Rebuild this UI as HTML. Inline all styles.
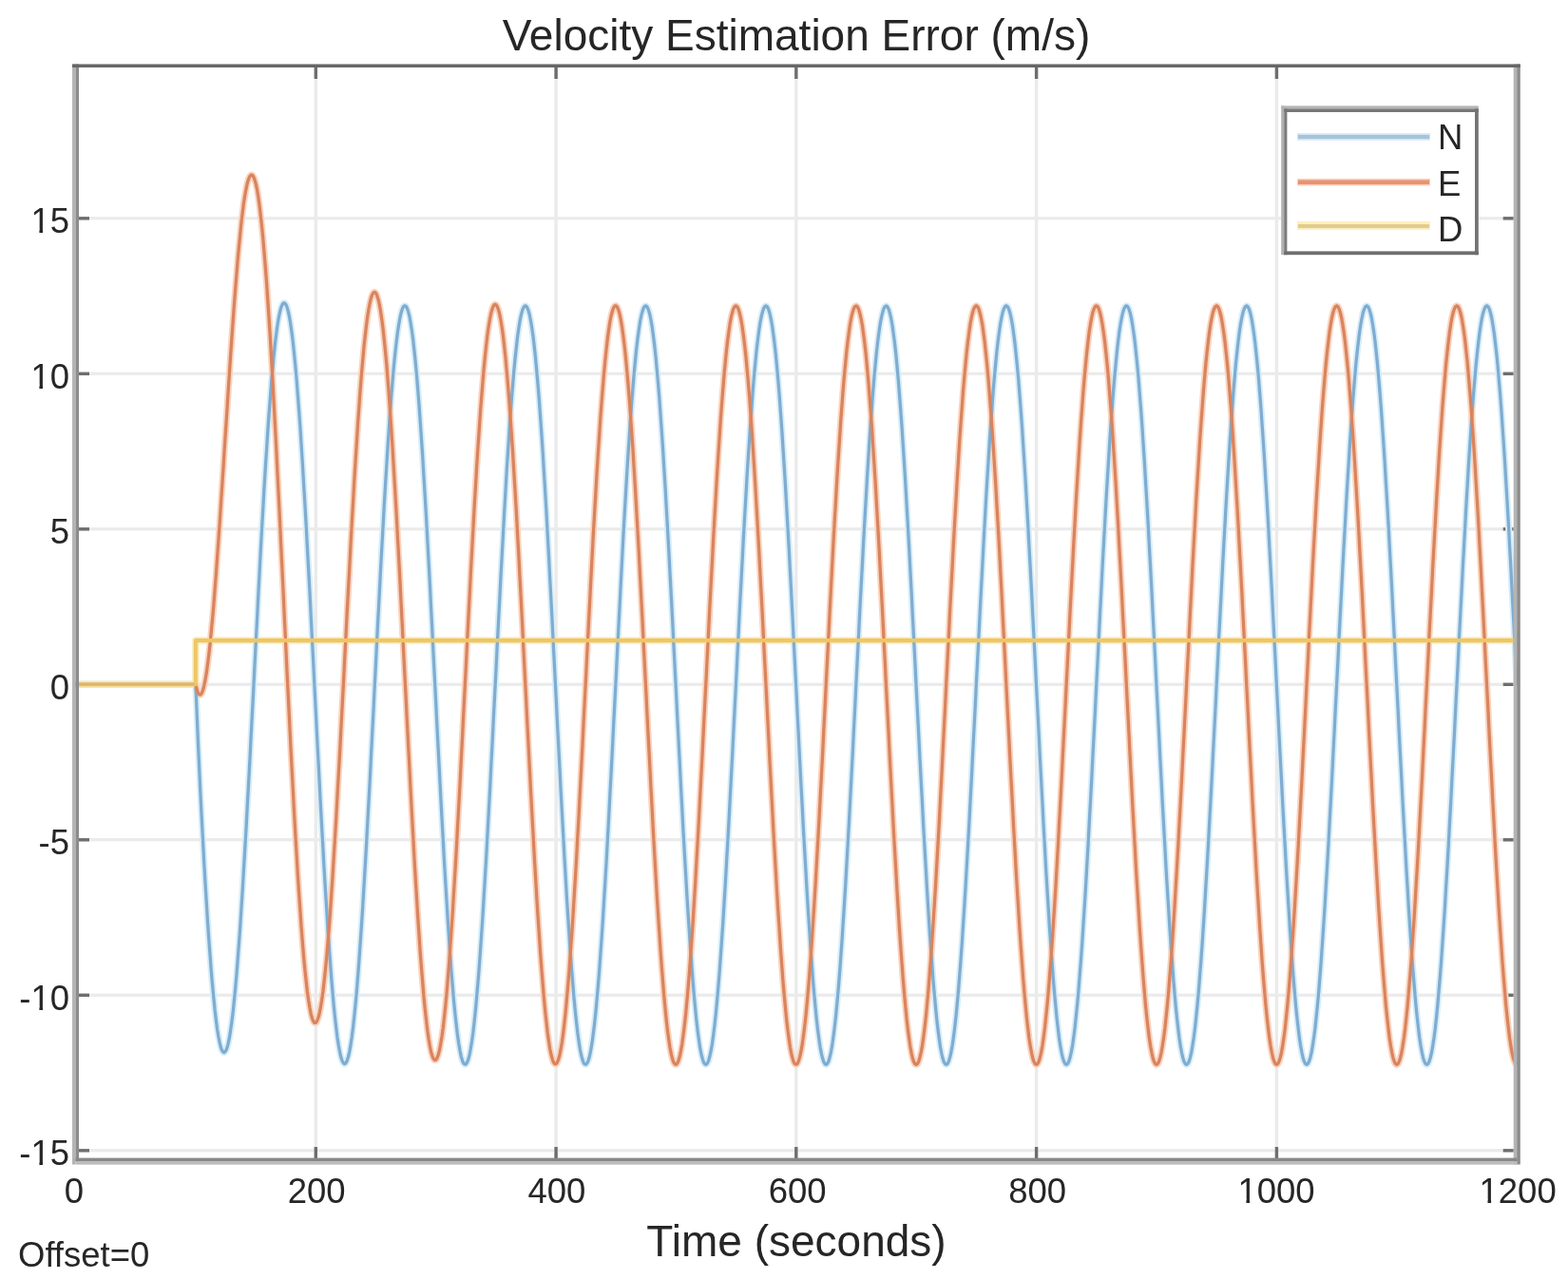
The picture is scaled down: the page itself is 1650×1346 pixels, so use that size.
<!DOCTYPE html><html><head><meta charset="utf-8"><title>Velocity Estimation Error</title><style>html,body{margin:0;padding:0;background:#fff;overflow:hidden}svg{display:block}text{font-family:'Liberation Sans',Arial,Helvetica,sans-serif;fill:#262626}</style></head><body>
<svg width="1650" height="1346" viewBox="0 0 1650 1346">
<rect width="1650" height="1346" fill="#fff"/>
<rect x="330.6" y="71" width="3.4" height="1148" fill="#ebebeb"/><rect x="583.4" y="71" width="3.4" height="1148" fill="#ebebeb"/><rect x="836.1" y="71" width="3.4" height="1148" fill="#ebebeb"/><rect x="1088.9" y="71" width="3.4" height="1148" fill="#ebebeb"/><rect x="1341.7" y="71" width="3.4" height="1148" fill="#ebebeb"/><rect x="83" y="228.1" width="1510" height="3.3" fill="#ebebeb"/><rect x="83" y="391.6" width="1510" height="3.3" fill="#ebebeb"/><rect x="83" y="555.1" width="1510" height="3.3" fill="#ebebeb"/><rect x="83" y="718.6" width="1510" height="3.3" fill="#ebebeb"/><rect x="83" y="882.1" width="1510" height="3.3" fill="#ebebeb"/><rect x="83" y="1045.6" width="1510" height="3.3" fill="#ebebeb"/><rect x="83" y="1209.1" width="1510" height="3.3" fill="#ebebeb"/>
<rect x="330.6" y="71" width="3.4" height="12" fill="#6e6e6e"/><rect x="330.6" y="1207" width="3.4" height="12" fill="#6e6e6e"/><rect x="583.4" y="71" width="3.4" height="12" fill="#6e6e6e"/><rect x="583.4" y="1207" width="3.4" height="12" fill="#6e6e6e"/><rect x="836.1" y="71" width="3.4" height="12" fill="#6e6e6e"/><rect x="836.1" y="1207" width="3.4" height="12" fill="#6e6e6e"/><rect x="1088.9" y="71" width="3.4" height="12" fill="#6e6e6e"/><rect x="1088.9" y="1207" width="3.4" height="12" fill="#6e6e6e"/><rect x="1341.7" y="71" width="3.4" height="12" fill="#6e6e6e"/><rect x="1341.7" y="1207" width="3.4" height="12" fill="#6e6e6e"/><rect x="83" y="228.1" width="11" height="3.4" fill="#6e6e6e"/><rect x="1581.7" y="228.1" width="11" height="3.4" fill="#6e6e6e"/><rect x="83" y="391.6" width="11" height="3.4" fill="#6e6e6e"/><rect x="1581.7" y="391.6" width="11" height="3.4" fill="#6e6e6e"/><rect x="83" y="555.1" width="11" height="3.4" fill="#6e6e6e"/><rect x="1581.7" y="555.1" width="11" height="3.4" fill="#6e6e6e"/><rect x="83" y="718.6" width="11" height="3.4" fill="#6e6e6e"/><rect x="1581.7" y="718.6" width="11" height="3.4" fill="#6e6e6e"/><rect x="83" y="882.1" width="11" height="3.4" fill="#6e6e6e"/><rect x="1581.7" y="882.1" width="11" height="3.4" fill="#6e6e6e"/><rect x="83" y="1045.6" width="11" height="3.4" fill="#6e6e6e"/><rect x="1581.7" y="1045.6" width="11" height="3.4" fill="#6e6e6e"/><rect x="83" y="1209.1" width="11" height="3.4" fill="#6e6e6e"/><rect x="1581.7" y="1209.1" width="11" height="3.4" fill="#6e6e6e"/>
<g fill="none" stroke-linejoin="round">
<polyline stroke="#d6eefa" stroke-width="7.00" points="79.5,720.3 205.9,720.3 205.9,720.3 207.2,751.5 208.4,780.8 209.7,808.5 210.9,834.9 212.2,860.1 213.5,884.2 214.7,907.2 216.0,929.2 217.3,950.1 218.5,969.8 219.8,988.5 221.1,1005.9 222.3,1022.2 223.6,1037.1 224.9,1050.7 226.1,1063.0 227.4,1073.8 228.6,1083.2 229.9,1091.0 231.2,1097.4 232.4,1102.3 233.7,1105.6 235.0,1107.3 236.2,1107.5 237.5,1106.1 238.8,1103.1 240.0,1098.7 241.3,1092.7 242.5,1085.1 243.8,1076.2 245.1,1065.8 246.3,1054.0 247.6,1040.8 248.9,1026.4 250.1,1010.7 251.4,993.9 252.7,976.0 253.9,957.0 255.2,937.1 256.4,916.3 257.7,894.7 259.0,872.3 260.2,849.4 261.5,825.9 262.8,802.0 264.0,777.7 265.3,753.2 266.6,728.5 267.8,703.8 269.1,679.1 270.4,654.5 271.6,630.2 272.9,606.1 274.1,582.6 275.4,559.5 276.7,537.0 277.9,515.2 279.2,494.2 280.5,474.1 281.7,454.9 283.0,436.7 284.3,419.6 285.5,403.7 286.8,388.9 288.0,375.5 289.3,363.4 290.6,352.6 291.8,343.3 293.1,335.4 294.4,329.0 295.6,324.1 296.9,320.8 298.2,319.0 299.4,318.8 300.7,320.1 301.9,322.9 303.2,327.3 304.5,333.3 305.7,340.7 307.0,349.6 308.3,359.9 309.5,371.7 310.8,384.7 312.1,399.1 313.3,414.8 314.6,431.6 315.9,449.5 317.1,468.5 318.4,488.5 319.6,509.3 320.9,531.0 322.2,553.4 323.4,576.5 324.7,600.1 326.0,624.2 327.2,648.6 328.5,673.4 329.8,698.3 331.0,723.2 332.3,748.2 333.5,773.1 334.8,797.7 336.1,822.1 337.3,846.0 338.6,869.5 339.9,892.4 341.1,914.5 342.4,936.0 343.7,956.6 344.9,976.2 346.2,994.9 347.5,1012.5 348.7,1028.9 350.0,1044.2 351.2,1058.1 352.5,1070.8 353.8,1082.0 355.0,1091.9 356.3,1100.3 357.6,1107.2 358.8,1112.6 360.1,1116.5 361.4,1118.8 362.6,1119.6 363.9,1118.8 365.1,1116.4 366.4,1112.5 367.7,1107.1 368.9,1100.1 370.2,1091.7 371.5,1081.8 372.7,1070.5 374.0,1057.8 375.3,1043.8 376.5,1028.6 377.8,1012.1 379.0,994.5 380.3,975.8 381.6,956.2 382.8,935.5 384.1,914.1 385.4,891.9 386.6,869.0 387.9,845.6 389.2,821.6 390.4,797.3 391.7,772.7 393.0,747.8 394.2,722.9 395.5,697.9 396.7,673.0 398.0,648.4 399.3,623.9 400.5,599.9 401.8,576.4 403.1,553.4 404.3,531.1 405.6,509.5 406.9,488.7 408.1,468.8 409.4,450.0 410.6,432.2 411.9,415.5 413.2,400.0 414.4,385.8 415.7,372.9 417.0,361.3 418.2,351.2 419.5,342.5 420.8,335.2 422.0,329.5 423.3,325.4 424.5,322.7 425.8,321.7 427.1,322.2 428.3,324.2 429.6,327.8 430.9,333.0 432.1,339.7 433.4,347.8 434.7,357.5 435.9,368.5 437.2,381.0 438.5,394.7 439.7,409.8 441.0,426.0 442.2,443.5 443.5,462.0 444.8,481.5 446.0,502.0 447.3,523.3 448.6,545.4 449.8,568.2 451.1,591.6 452.4,615.4 453.6,639.8 454.9,664.4 456.1,689.2 457.4,714.2 458.7,739.2 459.9,764.1 461.2,788.9 462.5,813.4 463.7,837.5 465.0,861.2 466.3,884.3 467.5,906.8 468.8,928.6 470.1,949.5 471.3,969.6 472.6,988.6 473.8,1006.7 475.1,1023.6 476.4,1039.3 477.6,1053.8 478.9,1066.9 480.2,1078.7 481.4,1089.1 482.7,1098.1 484.0,1105.6 485.2,1111.6 486.5,1116.0 487.7,1118.9 489.0,1120.2 490.3,1120.0 491.5,1118.2 492.8,1114.8 494.1,1109.9 495.3,1103.5 496.6,1095.6 497.9,1086.2 499.1,1075.4 500.4,1063.1 501.6,1049.6 502.9,1034.7 504.2,1018.6 505.4,1001.4 506.7,983.0 508.0,963.7 509.2,943.3 510.5,922.1 511.8,900.1 513.0,877.4 514.3,854.1 515.6,830.3 516.8,806.0 518.1,781.4 519.3,756.6 520.6,731.6 521.9,706.6 523.1,681.6 524.4,656.8 525.7,632.3 526.9,608.1 528.2,584.3 529.5,561.1 530.7,538.5 532.0,516.6 533.2,495.5 534.5,475.3 535.8,456.1 537.0,437.9 538.3,420.9 539.6,405.0 540.8,390.3 542.1,377.0 543.4,365.0 544.6,354.3 545.9,345.2 547.1,337.5 548.4,331.3 549.7,326.7 550.9,323.6 552.2,322.0 553.5,322.0 554.7,323.6 556.0,326.8 557.3,331.5 558.5,337.7 559.8,345.5 561.1,354.7 562.3,365.3 563.6,377.4 564.8,390.8 566.1,405.5 567.4,421.5 568.6,438.6 569.9,456.8 571.2,476.1 572.4,496.3 573.7,517.4 575.0,539.3 576.2,562.0 577.5,585.2 578.7,609.0 580.0,633.2 581.3,657.8 582.5,682.6 583.8,707.6 585.1,732.7 586.3,757.6 587.6,782.5 588.9,807.1 590.1,831.3 591.4,855.2 592.7,878.5 593.9,901.2 595.2,923.1 596.4,944.3 597.7,964.6 599.0,984.0 600.2,1002.3 601.5,1019.5 602.8,1035.5 604.0,1050.3 605.3,1063.8 606.6,1076.0 607.8,1086.8 609.1,1096.1 610.3,1104.0 611.6,1110.3 612.9,1115.1 614.1,1118.4 615.4,1120.1 616.7,1120.2 617.9,1118.8 619.2,1115.8 620.5,1111.3 621.7,1105.2 623.0,1097.6 624.2,1088.5 625.5,1078.0 626.8,1066.1 628.0,1052.8 629.3,1038.2 630.6,1022.4 631.8,1005.4 633.1,987.3 634.4,968.1 635.6,947.9 636.9,926.9 638.2,905.0 639.4,882.5 640.7,859.3 641.9,835.5 643.2,811.3 644.5,786.7 645.7,761.9 647.0,736.9 648.3,711.9 649.5,686.9 650.8,662.0 652.1,637.4 653.3,613.1 654.6,589.2 655.8,565.8 657.1,543.1 658.4,521.0 659.6,499.8 660.9,479.4 662.2,459.9 663.4,441.5 664.7,424.2 666.0,408.0 667.2,393.1 668.5,379.5 669.7,367.2 671.0,356.3 672.3,346.9 673.5,338.9 674.8,332.4 676.1,327.4 677.3,324.0 678.6,322.2 679.9,321.9 681.1,323.2 682.4,326.1 683.7,330.5 684.9,336.5 686.2,343.9 687.4,352.9 688.7,363.3 690.0,375.1 691.2,388.3 692.5,402.8 693.8,418.5 695.0,435.4 696.3,453.5 697.6,472.6 698.8,492.7 700.1,513.7 701.3,535.5 702.6,558.0 703.9,581.2 705.1,604.9 706.4,629.1 707.7,653.6 708.9,678.4 710.2,703.4 711.5,728.4 712.7,753.5 714.0,778.3 715.3,803.0 716.5,827.4 717.8,851.3 719.0,874.7 720.3,897.5 721.6,919.6 722.8,941.0 724.1,961.4 725.4,980.9 726.6,999.4 727.9,1016.8 729.2,1033.1 730.4,1048.1 731.7,1061.8 732.9,1074.2 734.2,1085.2 735.5,1094.8 736.7,1102.9 738.0,1109.4 739.3,1114.5 740.5,1118.0 741.8,1119.9 743.1,1120.3 744.3,1119.1 745.6,1116.4 746.8,1112.0 748.1,1106.2 749.4,1098.8 750.6,1089.9 751.9,1079.6 753.2,1067.9 754.4,1054.8 755.7,1040.4 757.0,1024.7 758.2,1007.9 759.5,989.9 760.8,970.9 762.0,950.8 763.3,929.9 764.5,908.1 765.8,885.6 767.1,862.5 768.3,838.8 769.6,814.6 770.9,790.1 772.1,765.3 773.4,740.3 774.7,715.3 775.9,690.2 777.2,665.3 778.4,640.6 779.7,616.3 781.0,592.3 782.2,568.9 783.5,546.0 784.8,523.8 786.0,502.5 787.3,481.9 788.6,462.4 789.8,443.8 791.1,426.3 792.3,410.0 793.6,394.9 794.9,381.1 796.1,368.7 797.4,357.6 798.7,347.9 799.9,339.8 801.2,333.1 802.5,328.0 803.7,324.4 805.0,322.3 806.3,321.9 807.5,323.0 808.8,325.7 810.0,329.9 811.3,335.7 812.6,343.0 813.8,351.8 815.1,362.0 816.4,373.7 817.6,386.7 818.9,401.0 820.2,416.7 821.4,433.5 822.7,451.4 823.9,470.4 825.2,490.4 826.5,511.3 827.7,533.0 829.0,555.5 830.3,578.6 831.5,602.3 832.8,626.4 834.1,650.9 835.3,675.7 836.6,700.7 837.9,725.8 839.1,750.8 840.4,775.7 841.6,800.4 842.9,824.8 844.2,848.8 845.4,872.3 846.7,895.2 848.0,917.4 849.2,938.8 850.5,959.4 851.8,979.0 853.0,997.6 854.3,1015.1 855.5,1031.5 856.8,1046.7 858.1,1060.5 859.3,1073.0 860.6,1084.2 861.9,1093.9 863.1,1102.1 864.4,1108.9 865.7,1114.1 866.9,1117.7 868.2,1119.8 869.4,1120.4 870.7,1119.3 872.0,1116.7 873.2,1112.5 874.5,1106.8 875.8,1099.6 877.0,1090.8 878.3,1080.6 879.6,1069.0 880.8,1056.1 882.1,1041.8 883.4,1026.2 884.6,1009.5 885.9,991.6 887.1,972.6 888.4,952.6 889.7,931.8 890.9,910.1 892.2,887.6 893.5,864.5 894.7,840.9 896.0,816.7 897.3,792.2 898.5,767.4 899.8,742.5 901.0,717.4 902.3,692.4 903.6,667.4 904.8,642.7 906.1,618.3 907.4,594.3 908.6,570.8 909.9,547.9 911.2,525.6 912.4,504.2 913.7,483.6 914.9,463.9 916.2,445.2 917.5,427.7 918.7,411.3 920.0,396.1 921.3,382.2 922.5,369.6 923.8,358.4 925.1,348.6 926.3,340.4 927.6,333.6 928.9,328.3 930.1,324.6 931.4,322.4 932.6,321.9 933.9,322.9 935.2,325.4 936.4,329.5 937.7,335.2 939.0,342.4 940.2,351.1 941.5,361.2 942.8,372.8 944.0,385.7 945.3,400.0 946.5,415.5 947.8,432.2 949.1,450.1 950.3,469.0 951.6,488.9 952.9,509.8 954.1,531.5 955.4,553.9 956.7,577.0 957.9,600.6 959.2,624.7 960.4,649.2 961.7,674.0 963.0,699.0 964.2,724.1 965.5,749.1 966.8,774.1 968.0,798.8 969.3,823.2 970.6,847.2 971.8,870.8 973.1,893.7 974.4,915.9 975.6,937.4 976.9,958.1 978.1,977.8 979.4,996.5 980.7,1014.1 981.9,1030.5 983.2,1045.7 984.5,1059.7 985.7,1072.3 987.0,1083.5 988.3,1093.3 989.5,1101.7 990.8,1108.5 992.0,1113.8 993.3,1117.6 994.6,1119.7 995.8,1120.4 997.1,1119.4 998.4,1116.9 999.6,1112.8 1000.9,1107.2 1002.2,1100.0 1003.4,1091.4 1004.7,1081.3 1006.0,1069.8 1007.2,1056.9 1008.5,1042.6 1009.7,1027.1 1011.0,1010.4 1012.3,992.6 1013.5,973.7 1014.8,953.8 1016.1,933.0 1017.3,911.3 1018.6,888.9 1019.9,865.8 1021.1,842.2 1022.4,818.1 1023.6,793.6 1024.9,768.8 1026.2,743.8 1027.4,718.8 1028.7,693.7 1030.0,668.8 1031.2,644.0 1032.5,619.6 1033.8,595.5 1035.0,572.0 1036.3,549.1 1037.5,526.8 1038.8,505.3 1040.1,484.6 1041.3,464.9 1042.6,446.2 1043.9,428.5 1045.1,412.1 1046.4,396.8 1047.7,382.8 1048.9,370.2 1050.2,358.9 1051.5,349.1 1052.7,340.7 1054.0,333.9 1055.2,328.5 1056.5,324.7 1057.8,322.5 1059.0,321.8 1060.3,322.8 1061.6,325.3 1062.8,329.3 1064.1,334.9 1065.4,342.0 1066.6,350.6 1067.9,360.7 1069.1,372.2 1070.4,385.1 1071.7,399.3 1072.9,414.7 1074.2,431.4 1075.5,449.2 1076.7,468.1 1078.0,488.0 1079.3,508.8 1080.5,530.5 1081.8,552.9 1083.0,575.9 1084.3,599.6 1085.6,623.7 1086.8,648.2 1088.1,672.9 1089.4,697.9 1090.6,723.0 1091.9,748.0 1093.2,773.0 1094.4,797.7 1095.7,822.2 1097.0,846.2 1098.2,869.8 1099.5,892.8 1100.7,915.0 1102.0,936.6 1103.3,957.2 1104.5,977.0 1105.8,995.7 1107.1,1013.4 1108.3,1029.9 1109.6,1045.2 1110.9,1059.2 1112.1,1071.8 1113.4,1083.1 1114.6,1093.0 1115.9,1101.4 1117.2,1108.3 1118.4,1113.6 1119.7,1117.4 1121.0,1119.7 1122.2,1120.4 1123.5,1119.5 1124.8,1117.0 1126.0,1113.0 1127.3,1107.4 1128.6,1100.3 1129.8,1091.7 1131.1,1081.7 1132.3,1070.2 1133.6,1057.4 1134.9,1043.2 1136.1,1027.7 1137.4,1011.1 1138.7,993.3 1139.9,974.4 1141.2,954.5 1142.5,933.7 1143.7,912.1 1145.0,889.7 1146.2,866.7 1147.5,843.0 1148.8,818.9 1150.0,794.4 1151.3,769.7 1152.6,744.7 1153.8,719.6 1155.1,694.6 1156.4,669.6 1157.6,644.8 1158.9,620.4 1160.1,596.3 1161.4,572.8 1162.7,549.8 1163.9,527.5 1165.2,506.0 1166.5,485.3 1167.7,465.5 1169.0,446.8 1170.3,429.1 1171.5,412.6 1172.8,397.3 1174.1,383.3 1175.3,370.6 1176.6,359.3 1177.8,349.4 1179.1,341.0 1180.4,334.1 1181.6,328.7 1182.9,324.8 1184.2,322.5 1185.4,321.8 1186.7,322.7 1188.0,325.2 1189.2,329.2 1190.5,334.7 1191.7,341.8 1193.0,350.4 1194.3,360.4 1195.5,371.9 1196.8,384.7 1198.1,398.8 1199.3,414.3 1200.6,430.9 1201.9,448.7 1203.1,467.6 1204.4,487.4 1205.6,508.2 1206.9,529.8 1208.2,552.2 1209.4,575.3 1210.7,598.9 1212.0,623.0 1213.2,647.5 1214.5,672.3 1215.8,697.2 1217.0,722.3 1218.3,747.4 1219.6,772.3 1220.8,797.1 1222.1,821.5 1223.3,845.6 1224.6,869.2 1225.9,892.2 1227.1,914.5 1228.4,936.0 1229.7,956.7 1230.9,976.5 1232.2,995.2 1233.5,1012.9 1234.7,1029.5 1236.0,1044.8 1237.2,1058.8 1238.5,1071.5 1239.8,1082.8 1241.0,1092.7 1242.3,1101.2 1243.6,1108.1 1244.8,1113.5 1246.1,1117.4 1247.4,1119.7 1248.6,1120.4 1249.9,1119.5 1251.2,1117.1 1252.4,1113.1 1253.7,1107.6 1254.9,1100.5 1256.2,1092.0 1257.5,1081.9 1258.7,1070.5 1260.0,1057.7 1261.3,1043.5 1262.5,1028.1 1263.8,1011.5 1265.1,993.7 1266.3,974.8 1267.6,955.0 1268.8,934.2 1270.1,912.6 1271.4,890.2 1272.6,867.2 1273.9,843.6 1275.2,819.5 1276.4,795.0 1277.7,770.2 1279.0,745.2 1280.2,720.2 1281.5,695.1 1282.7,670.1 1284.0,645.4 1285.3,620.9 1286.5,596.8 1287.8,573.3 1289.1,550.3 1290.3,528.0 1291.6,506.4 1292.9,485.7 1294.1,465.9 1295.4,447.1 1296.7,429.4 1297.9,412.9 1299.2,397.6 1300.4,383.5 1301.7,370.8 1303.0,359.5 1304.2,349.6 1305.5,341.1 1306.8,334.2 1308.0,328.8 1309.3,324.9 1310.6,322.6 1311.8,321.8 1313.1,322.7 1314.3,325.1 1315.6,329.1 1316.9,334.6 1318.1,341.6 1319.4,350.2 1320.7,360.2 1321.9,371.6 1323.2,384.4 1324.5,398.6 1325.7,414.0 1327.0,430.6 1328.2,448.4 1329.5,467.2 1330.8,487.1 1332.0,507.8 1333.3,529.4 1334.6,551.8 1335.8,574.9 1337.1,598.5 1338.4,622.6 1339.6,647.0 1340.9,671.8 1342.2,696.8 1343.4,721.9 1344.7,746.9 1345.9,771.9 1347.2,796.7 1348.5,821.1 1349.7,845.2 1351.0,868.8 1352.3,891.8 1353.5,914.1 1354.8,935.7 1356.1,956.4 1357.3,976.2 1358.6,994.9 1359.8,1012.7 1361.1,1029.2 1362.4,1044.5 1363.6,1058.6 1364.9,1071.3 1366.2,1082.7 1367.4,1092.6 1368.7,1101.0 1370.0,1108.0 1371.2,1113.4 1372.5,1117.3 1373.8,1119.6 1375.0,1120.4 1376.3,1119.5 1377.5,1117.1 1378.8,1113.2 1380.1,1107.7 1381.3,1100.6 1382.6,1092.1 1383.9,1082.1 1385.1,1070.7 1386.4,1057.9 1387.7,1043.7 1388.9,1028.3 1390.2,1011.7 1391.4,994.0 1392.7,975.1 1394.0,955.3 1395.2,934.5 1396.5,912.9 1397.8,890.5 1399.0,867.5 1400.3,843.9 1401.6,819.8 1402.8,795.3 1404.1,770.5 1405.3,745.6 1406.6,720.5 1407.9,695.4 1409.1,670.5 1410.4,645.7 1411.7,621.2 1412.9,597.2 1414.2,573.6 1415.5,550.6 1416.7,528.3 1418.0,506.7 1419.3,486.0 1420.5,466.2 1421.8,447.4 1423.0,429.7 1424.3,413.1 1425.6,397.8 1426.8,383.7 1428.1,371.0 1429.4,359.6 1430.6,349.7 1431.9,341.2 1433.2,334.3 1434.4,328.8 1435.7,324.9 1436.9,322.6 1438.2,321.8 1439.5,322.7 1440.7,325.1 1442.0,329.0 1443.3,334.5 1444.5,341.5 1445.8,350.1 1447.1,360.1 1448.3,371.5 1449.6,384.3 1450.8,398.4 1452.1,413.8 1453.4,430.4 1454.6,448.2 1455.9,467.0 1457.2,486.8 1458.4,507.6 1459.7,529.2 1461.0,551.6 1462.2,574.6 1463.5,598.2 1464.8,622.3 1466.0,646.8 1467.3,671.5 1468.5,696.5 1469.8,721.6 1471.1,746.7 1472.3,771.6 1473.6,796.4 1474.9,820.9 1476.1,844.9 1477.4,868.5 1478.7,891.5 1479.9,913.9 1481.2,935.4 1482.4,956.2 1483.7,976.0 1485.0,994.8 1486.2,1012.5 1487.5,1029.0 1488.8,1044.4 1490.0,1058.5 1491.3,1071.2 1492.6,1082.6 1493.8,1092.5 1495.1,1101.0 1496.4,1107.9 1497.6,1113.4 1498.9,1117.3 1500.1,1119.6 1501.4,1120.4 1502.7,1119.6 1503.9,1117.2 1505.2,1113.2 1506.5,1107.7 1507.7,1100.7 1509.0,1092.2 1510.3,1082.2 1511.5,1070.8 1512.8,1058.0 1514.0,1043.9 1515.3,1028.5 1516.6,1011.9 1517.8,994.1 1519.1,975.3 1520.4,955.5 1521.6,934.7 1522.9,913.1 1524.2,890.8 1525.4,867.7 1526.7,844.1 1527.9,820.0 1529.2,795.5 1530.5,770.8 1531.7,745.8 1533.0,720.7 1534.3,695.7 1535.5,670.7 1536.8,645.9 1538.1,621.5 1539.3,597.4 1540.6,573.8 1541.9,550.8 1543.1,528.4 1544.4,506.9 1545.6,486.1 1546.9,466.3 1548.2,447.5 1549.4,429.8 1550.7,413.2 1552.0,397.9 1553.2,383.8 1554.5,371.1 1555.8,359.7 1557.0,349.8 1558.3,341.3 1559.5,334.3 1560.8,328.9 1562.1,324.9 1563.3,322.6 1564.6,321.8 1565.9,322.7 1567.1,325.0 1568.4,329.0 1569.7,334.5 1570.9,341.5 1572.2,350.0 1573.4,360.0 1574.7,371.4 1576.0,384.2 1577.2,398.3 1578.5,413.7 1579.8,430.3 1581.0,448.0 1582.3,466.9 1583.6,486.7 1584.8,507.4 1586.1,529.0 1587.4,551.4 1588.6,574.4 1589.9,598.0 1591.1,622.1 1592.4,646.6 1593.7,671.4 1594.9,696.3 1596.2,721.4"/>
<polyline stroke="#fbd3bd" stroke-width="7.00" points="79.5,720.3 205.9,720.3 205.9,720.3 207.2,725.6 208.4,729.1 209.7,730.9 210.9,731.1 212.2,729.6 213.5,726.5 214.7,721.9 216.0,715.7 217.3,708.1 218.5,699.1 219.8,688.9 221.1,677.3 222.3,664.7 223.6,650.9 224.9,636.1 226.1,620.4 227.4,603.9 228.6,586.7 229.9,568.8 231.2,550.3 232.4,531.4 233.7,512.1 235.0,492.6 236.2,473.0 237.5,453.3 238.8,433.6 240.0,414.0 241.3,394.7 242.5,375.8 243.8,357.2 245.1,339.2 246.3,321.8 247.6,305.1 248.9,289.2 250.1,274.1 251.4,260.0 252.7,246.9 253.9,234.9 255.2,224.0 256.4,214.3 257.7,205.9 259.0,198.8 260.2,193.0 261.5,188.7 262.8,185.7 264.0,184.2 265.3,184.1 266.6,185.6 267.8,188.5 269.1,192.9 270.4,198.8 271.6,206.1 272.9,214.9 274.1,225.2 275.4,236.8 276.7,249.9 277.9,264.3 279.2,279.9 280.5,296.8 281.7,314.9 283.0,334.1 284.3,354.4 285.5,375.6 286.8,397.8 288.0,420.8 289.3,444.6 290.6,469.1 291.8,494.1 293.1,519.7 294.4,545.6 295.6,571.9 296.9,598.4 298.2,625.0 299.4,651.7 300.7,678.3 301.9,704.7 303.2,730.9 304.5,756.7 305.7,782.0 307.0,806.9 308.3,831.1 309.5,854.6 310.8,877.3 312.1,899.1 313.3,919.9 314.6,939.7 315.9,958.4 317.1,975.9 318.4,992.2 319.6,1007.1 320.9,1020.8 322.2,1033.0 323.4,1043.7 324.7,1053.0 326.0,1060.8 327.2,1067.1 328.5,1071.8 329.8,1074.9 331.0,1076.4 332.3,1076.4 333.5,1074.7 334.8,1071.5 336.1,1066.8 337.3,1060.5 338.6,1052.8 339.9,1043.5 341.1,1032.9 342.4,1020.9 343.7,1007.5 344.9,992.9 346.2,977.0 347.5,960.0 348.7,941.9 350.0,922.8 351.2,902.8 352.5,882.0 353.8,860.3 355.0,838.0 356.3,815.2 357.6,791.8 358.8,768.0 360.1,743.9 361.4,719.7 362.6,695.3 363.9,670.9 365.1,646.6 366.4,622.4 367.7,598.6 368.9,575.1 370.2,552.1 371.5,529.7 372.7,507.9 374.0,486.9 375.3,466.7 376.5,447.4 377.8,429.0 379.0,411.8 380.3,395.6 381.6,380.7 382.8,367.0 384.1,354.6 385.4,343.5 386.6,333.9 387.9,325.7 389.2,319.0 390.4,313.8 391.7,310.1 393.0,308.0 394.2,307.4 395.5,308.3 396.7,310.9 398.0,314.9 399.3,320.5 400.5,327.6 401.8,336.2 403.1,346.2 404.3,357.7 405.6,370.5 406.9,384.7 408.1,400.1 409.4,416.7 410.6,434.4 411.9,453.3 413.2,473.1 414.4,493.9 415.7,515.5 417.0,537.8 418.2,560.9 419.5,584.5 420.8,608.6 422.0,633.2 423.3,658.0 424.5,683.0 425.8,708.2 427.1,733.4 428.3,758.4 429.6,783.4 430.9,808.0 432.1,832.2 433.4,856.0 434.7,879.2 435.9,901.8 437.2,923.6 438.5,944.7 439.7,964.8 441.0,983.9 442.2,1002.0 443.5,1018.9 444.8,1034.6 446.0,1049.1 447.3,1062.3 448.6,1074.1 449.8,1084.5 451.1,1093.5 452.4,1101.0 453.6,1106.9 454.9,1111.4 456.1,1114.2 457.4,1115.6 458.7,1115.3 459.9,1113.5 461.2,1110.1 462.5,1105.2 463.7,1098.7 465.0,1090.8 466.3,1081.4 467.5,1070.5 468.8,1058.3 470.1,1044.7 471.3,1029.9 472.6,1013.8 473.8,996.5 475.1,978.2 476.4,958.8 477.6,938.5 478.9,917.3 480.2,895.3 481.4,872.7 482.7,849.4 484.0,825.6 485.2,801.4 486.5,776.8 487.7,752.1 489.0,727.2 490.3,702.2 491.5,677.3 492.8,652.6 494.1,628.1 495.3,604.0 496.6,580.3 497.9,557.2 499.1,534.7 500.4,513.0 501.6,492.0 502.9,471.9 504.2,452.8 505.4,434.7 506.7,417.8 508.0,402.0 509.2,387.5 510.5,374.3 511.8,362.4 513.0,351.9 514.3,342.9 515.6,335.4 516.8,329.3 518.1,324.8 519.3,321.8 520.6,320.4 521.9,320.6 523.1,322.3 524.4,325.6 525.7,330.4 526.9,336.8 528.2,344.6 529.5,354.0 530.7,364.7 532.0,376.9 533.2,390.4 534.5,405.2 535.8,421.2 537.0,438.4 538.3,456.8 539.6,476.1 540.8,496.4 542.1,517.6 543.4,539.6 544.6,562.3 545.9,585.6 547.1,609.4 548.4,633.7 549.7,658.3 550.9,683.1 552.2,708.1 553.5,733.2 554.7,758.2 556.0,783.0 557.3,807.6 558.5,831.9 559.8,855.7 561.1,879.0 562.3,901.6 563.6,923.6 564.8,944.7 566.1,965.0 567.4,984.3 568.6,1002.6 569.9,1019.7 571.2,1035.7 572.4,1050.4 573.7,1063.9 575.0,1076.0 576.2,1086.7 577.5,1096.0 578.7,1103.8 580.0,1110.0 581.3,1114.8 582.5,1118.0 583.8,1119.6 585.1,1119.7 586.3,1118.2 587.6,1115.1 588.9,1110.5 590.1,1104.4 591.4,1096.7 592.7,1087.6 593.9,1077.0 595.2,1065.1 596.4,1051.7 597.7,1037.1 599.0,1021.2 600.2,1004.2 601.5,986.0 602.8,966.8 604.0,946.6 605.3,925.6 606.6,903.7 607.8,881.1 609.1,857.9 610.3,834.1 611.6,809.9 612.9,785.3 614.1,760.5 615.4,735.5 616.7,710.5 617.9,685.5 619.2,660.7 620.5,636.1 621.7,611.8 623.0,587.9 624.2,564.6 625.5,541.9 626.8,519.9 628.0,498.6 629.3,478.3 630.6,458.9 631.8,440.5 633.1,423.3 634.4,407.2 635.6,392.3 636.9,378.8 638.2,366.5 639.4,355.7 640.7,346.3 641.9,338.4 643.2,332.0 644.5,327.1 645.7,323.8 647.0,322.0 648.3,321.8 649.5,323.1 650.8,326.1 652.1,330.6 653.3,336.6 654.6,344.1 655.8,353.1 657.1,363.6 658.4,375.5 659.6,388.7 660.9,403.2 662.2,419.0 663.4,436.0 664.7,454.1 666.0,473.2 667.2,493.3 668.5,514.3 669.7,536.2 671.0,558.7 672.3,581.9 673.5,605.6 674.8,629.8 676.1,654.4 677.3,679.2 678.6,704.2 679.9,729.2 681.1,754.2 682.4,779.1 683.7,803.8 684.9,828.1 686.2,852.0 687.4,875.4 688.7,898.2 690.0,920.3 691.2,941.6 692.5,962.0 693.8,981.5 695.0,1000.0 696.3,1017.3 697.6,1033.5 698.8,1048.5 700.1,1062.2 701.3,1074.5 702.6,1085.5 703.9,1095.0 705.1,1103.0 706.4,1109.6 707.7,1114.6 708.9,1118.0 710.2,1119.9 711.5,1120.3 712.7,1119.0 714.0,1116.2 715.3,1111.8 716.5,1105.9 717.8,1098.5 719.0,1089.6 720.3,1079.3 721.6,1067.5 722.8,1054.4 724.1,1039.9 725.4,1024.2 726.6,1007.3 727.9,989.3 729.2,970.2 730.4,950.2 731.7,929.2 732.9,907.4 734.2,884.9 735.5,861.8 736.7,838.1 738.0,813.9 739.3,789.4 740.5,764.6 741.8,739.6 743.1,714.5 744.3,689.5 745.6,664.6 746.8,639.9 748.1,615.6 749.4,591.6 750.6,568.2 751.9,545.4 753.2,523.2 754.4,501.9 755.7,481.4 757.0,461.8 758.2,443.3 759.5,425.8 760.8,409.6 762.0,394.5 763.3,380.8 764.5,368.3 765.8,357.3 767.1,347.7 768.3,339.6 769.6,332.9 770.9,327.8 772.1,324.3 773.4,322.3 774.7,321.9 775.9,323.0 777.2,325.7 778.4,330.0 779.7,335.8 781.0,343.2 782.2,352.0 783.5,362.3 784.8,374.0 786.0,387.0 787.3,401.4 788.6,417.0 789.8,433.9 791.1,451.8 792.3,470.8 793.6,490.8 794.9,511.8 796.1,533.5 797.4,556.0 798.7,579.1 799.9,602.8 801.2,627.0 802.5,651.5 803.7,676.3 805.0,701.3 806.3,726.3 807.5,751.3 808.8,776.3 810.0,801.0 811.3,825.3 812.6,849.3 813.8,872.8 815.1,895.7 816.4,917.8 817.6,939.2 818.9,959.8 820.2,979.4 821.4,998.0 822.7,1015.5 823.9,1031.8 825.2,1047.0 826.5,1060.8 827.7,1073.3 829.0,1084.4 830.3,1094.1 831.5,1102.3 832.8,1109.0 834.1,1114.2 835.3,1117.8 836.6,1119.8 837.9,1120.3 839.1,1119.3 840.4,1116.6 841.6,1112.4 842.9,1106.7 844.2,1099.4 845.4,1090.6 846.7,1080.4 848.0,1068.8 849.2,1055.8 850.5,1041.5 851.8,1025.9 853.0,1009.1 854.3,991.2 855.5,972.2 856.8,952.3 858.1,931.4 859.3,909.7 860.6,887.2 861.9,864.1 863.1,840.4 864.4,816.3 865.7,791.8 866.9,767.0 868.2,742.0 869.4,717.0 870.7,691.9 872.0,667.0 873.2,642.3 874.5,617.9 875.8,593.9 877.0,570.4 878.3,547.5 879.6,525.3 880.8,503.8 882.1,483.2 883.4,463.6 884.6,444.9 885.9,427.4 887.1,411.0 888.4,395.8 889.7,381.9 890.9,369.4 892.2,358.2 893.5,348.5 894.7,340.2 896.0,333.5 897.3,328.2 898.5,324.5 899.8,322.4 901.0,321.9 902.3,322.9 903.6,325.5 904.8,329.6 906.1,335.3 907.4,342.5 908.6,351.2 909.9,361.4 911.2,373.0 912.4,385.9 913.7,400.2 914.9,415.7 916.2,432.5 917.5,450.3 918.7,469.3 920.0,489.2 921.3,510.1 922.5,531.8 923.8,554.2 925.1,577.3 926.3,601.0 927.6,625.1 928.9,649.6 930.1,674.4 931.4,699.4 932.6,724.4 933.9,749.5 935.2,774.4 936.4,799.1 937.7,823.5 939.0,847.6 940.2,871.1 941.5,894.0 942.8,916.2 944.0,937.7 945.3,958.3 946.5,978.0 947.8,996.7 949.1,1014.3 950.3,1030.7 951.6,1045.9 952.9,1059.9 954.1,1072.5 955.4,1083.7 956.7,1093.4 957.9,1101.8 959.2,1108.6 960.4,1113.9 961.7,1117.6 963.0,1119.8 964.2,1120.4 965.5,1119.4 966.8,1116.9 968.0,1112.7 969.3,1107.1 970.6,1099.9 971.8,1091.3 973.1,1081.1 974.4,1069.6 975.6,1056.7 976.9,1042.5 978.1,1027.0 979.4,1010.2 980.7,992.4 981.9,973.5 983.2,953.6 984.5,932.7 985.7,911.1 987.0,888.6 988.3,865.6 989.5,841.9 990.8,817.8 992.0,793.3 993.3,768.5 994.6,743.5 995.8,718.5 997.1,693.4 998.4,668.5 999.6,643.7 1000.9,619.3 1002.2,595.3 1003.4,571.7 1004.7,548.8 1006.0,526.5 1007.2,505.0 1008.5,484.4 1009.7,464.7 1011.0,446.0 1012.3,428.4 1013.5,411.9 1014.8,396.7 1016.1,382.7 1017.3,370.1 1018.6,358.8 1019.9,349.0 1021.1,340.6 1022.4,333.8 1023.6,328.5 1024.9,324.7 1026.2,322.5 1027.4,321.8 1028.7,322.8 1030.0,325.3 1031.2,329.4 1032.5,335.0 1033.8,342.1 1035.0,350.7 1036.3,360.8 1037.5,372.3 1038.8,385.2 1040.1,399.4 1041.3,414.9 1042.6,431.6 1043.9,449.4 1045.1,468.3 1046.4,488.2 1047.7,509.0 1048.9,530.7 1050.2,553.1 1051.5,576.1 1052.7,599.8 1054.0,623.9 1055.2,648.4 1056.5,673.2 1057.8,698.1 1059.0,723.2 1060.3,748.3 1061.6,773.2 1062.8,798.0 1064.1,822.4 1065.4,846.4 1066.6,870.0 1067.9,892.9 1069.1,915.2 1070.4,936.7 1071.7,957.4 1072.9,977.1 1074.2,995.9 1075.5,1013.5 1076.7,1030.0 1078.0,1045.3 1079.3,1059.3 1080.5,1071.9 1081.8,1083.2 1083.0,1093.0 1084.3,1101.4 1085.6,1108.3 1086.8,1113.7 1088.1,1117.5 1089.4,1119.7 1090.6,1120.4 1091.9,1119.5 1093.2,1117.0 1094.4,1113.0 1095.7,1107.4 1097.0,1100.3 1098.2,1091.7 1099.5,1081.6 1100.7,1070.1 1102.0,1057.3 1103.3,1043.1 1104.5,1027.6 1105.8,1010.9 1107.1,993.1 1108.3,974.3 1109.6,954.4 1110.9,933.6 1112.1,911.9 1113.4,889.5 1114.6,866.5 1115.9,842.9 1117.2,818.8 1118.4,794.3 1119.7,769.5 1121.0,744.5 1122.2,719.4 1123.5,694.4 1124.8,669.4 1126.0,644.7 1127.3,620.2 1128.6,596.2 1129.8,572.6 1131.1,549.6 1132.3,527.3 1133.6,505.8 1134.9,485.1 1136.1,465.4 1137.4,446.6 1138.7,429.0 1139.9,412.5 1141.2,397.2 1142.5,383.2 1143.7,370.5 1145.0,359.2 1146.2,349.3 1147.5,340.9 1148.8,334.0 1150.0,328.6 1151.3,324.8 1152.6,322.5 1153.8,321.8 1155.1,322.7 1156.4,325.2 1157.6,329.2 1158.9,334.8 1160.1,341.8 1161.4,350.4 1162.7,360.5 1163.9,371.9 1165.2,384.8 1166.5,398.9 1167.7,414.4 1169.0,431.0 1170.3,448.8 1171.5,467.7 1172.8,487.6 1174.1,508.3 1175.3,530.0 1176.6,552.4 1177.8,575.4 1179.1,599.0 1180.4,623.1 1181.6,647.6 1182.9,672.4 1184.2,697.4 1185.4,722.4 1186.7,747.5 1188.0,772.5 1189.2,797.2 1190.5,821.7 1191.7,845.7 1193.0,869.3 1194.3,892.3 1195.5,914.6 1196.8,936.1 1198.1,956.8 1199.3,976.6 1200.6,995.3 1201.9,1013.0 1203.1,1029.5 1204.4,1044.9 1205.6,1058.9 1206.9,1071.6 1208.2,1082.9 1209.4,1092.8 1210.7,1101.2 1212.0,1108.1 1213.2,1113.5 1214.5,1117.4 1215.8,1119.7 1217.0,1120.4 1218.3,1119.5 1219.6,1117.1 1220.8,1113.1 1222.1,1107.5 1223.3,1100.5 1224.6,1091.9 1225.9,1081.9 1227.1,1070.4 1228.4,1057.6 1229.7,1043.5 1230.9,1028.0 1232.2,1011.4 1233.5,993.6 1234.7,974.8 1236.0,954.9 1237.2,934.1 1238.5,912.5 1239.8,890.1 1241.0,867.1 1242.3,843.5 1243.6,819.4 1244.8,794.9 1246.1,770.1 1247.4,745.1 1248.6,720.0 1249.9,695.0 1251.2,670.0 1252.4,645.3 1253.7,620.8 1254.9,596.7 1256.2,573.2 1257.5,550.2 1258.7,527.9 1260.0,506.3 1261.3,485.6 1262.5,465.8 1263.8,447.1 1265.1,429.4 1266.3,412.8 1267.6,397.5 1268.8,383.5 1270.1,370.8 1271.4,359.4 1272.6,349.5 1273.9,341.1 1275.2,334.1 1276.4,328.7 1277.7,324.9 1279.0,322.6 1280.2,321.8 1281.5,322.7 1282.7,325.1 1284.0,329.1 1285.3,334.6 1286.5,341.7 1287.8,350.2 1289.1,360.2 1290.3,371.7 1291.6,384.5 1292.9,398.6 1294.1,414.0 1295.4,430.7 1296.7,448.4 1297.9,467.3 1299.2,487.1 1300.4,507.9 1301.7,529.5 1303.0,551.9 1304.2,574.9 1305.5,598.6 1306.8,622.7 1308.0,647.1 1309.3,671.9 1310.6,696.9 1311.8,722.0 1313.1,747.0 1314.3,772.0 1315.6,796.7 1316.9,821.2 1318.1,845.3 1319.4,868.9 1320.7,891.9 1321.9,914.2 1323.2,935.7 1324.5,956.4 1325.7,976.2 1327.0,995.0 1328.2,1012.7 1329.5,1029.3 1330.8,1044.6 1332.0,1058.6 1333.3,1071.4 1334.6,1082.7 1335.8,1092.6 1337.1,1101.1 1338.4,1108.0 1339.6,1113.4 1340.9,1117.3 1342.2,1119.6 1343.4,1120.4 1344.7,1119.5 1345.9,1117.1 1347.2,1113.2 1348.5,1107.6 1349.7,1100.6 1351.0,1092.1 1352.3,1082.1 1353.5,1070.6 1354.8,1057.8 1356.1,1043.7 1357.3,1028.3 1358.6,1011.7 1359.8,993.9 1361.1,975.1 1362.4,955.2 1363.6,934.5 1364.9,912.8 1366.2,890.5 1367.4,867.4 1368.7,843.8 1370.0,819.7 1371.2,795.3 1372.5,770.5 1373.8,745.5 1375.0,720.4 1376.3,695.4 1377.5,670.4 1378.8,645.6 1380.1,621.2 1381.3,597.1 1382.6,573.5 1383.9,550.5 1385.1,528.2 1386.4,506.6 1387.7,485.9 1388.9,466.1 1390.2,447.3 1391.4,429.6 1392.7,413.1 1394.0,397.7 1395.2,383.7 1396.5,370.9 1397.8,359.6 1399.0,349.7 1400.3,341.2 1401.6,334.2 1402.8,328.8 1404.1,324.9 1405.3,322.6 1406.6,321.8 1407.9,322.7 1409.1,325.1 1410.4,329.0 1411.7,334.5 1412.9,341.6 1414.2,350.1 1415.5,360.1 1416.7,371.5 1418.0,384.3 1419.3,398.4 1420.5,413.8 1421.8,430.4 1423.0,448.2 1424.3,467.0 1425.6,486.9 1426.8,507.6 1428.1,529.3 1429.4,551.6 1430.6,574.6 1431.9,598.3 1433.2,622.3 1434.4,646.8 1435.7,671.6 1436.9,696.6 1438.2,721.6 1439.5,746.7 1440.7,771.7 1442.0,796.4 1443.3,820.9 1444.5,845.0 1445.8,868.6 1447.1,891.6 1448.3,913.9 1449.6,935.5 1450.8,956.2 1452.1,976.0 1453.4,994.8 1454.6,1012.5 1455.9,1029.1 1457.2,1044.4 1458.4,1058.5 1459.7,1071.2 1461.0,1082.6 1462.2,1092.5 1463.5,1101.0 1464.8,1108.0 1466.0,1113.4 1467.3,1117.3 1468.5,1119.6 1469.8,1120.4 1471.1,1119.6 1472.3,1117.2 1473.6,1113.2 1474.9,1107.7 1476.1,1100.7 1477.4,1092.2 1478.7,1082.2 1479.9,1070.8 1481.2,1058.0 1482.4,1043.9 1483.7,1028.5 1485.0,1011.9 1486.2,994.1 1487.5,975.3 1488.8,955.4 1490.0,934.7 1491.3,913.1 1492.6,890.7 1493.8,867.7 1495.1,844.1 1496.4,820.0 1497.6,795.5 1498.9,770.7 1500.1,745.8 1501.4,720.7 1502.7,695.6 1503.9,670.6 1505.2,645.9 1506.5,621.4 1507.7,597.3 1509.0,573.7 1510.3,550.7 1511.5,528.4 1512.8,506.8 1514.0,486.1 1515.3,466.3 1516.6,447.5 1517.8,429.8 1519.1,413.2 1520.4,397.9 1521.6,383.8 1522.9,371.0 1524.2,359.7 1525.4,349.7 1526.7,341.3 1527.9,334.3 1529.2,328.8 1530.5,324.9 1531.7,322.6 1533.0,321.8 1534.3,322.7 1535.5,325.0 1536.8,329.0 1538.1,334.5 1539.3,341.5 1540.6,350.0 1541.9,360.0 1543.1,371.4 1544.4,384.2 1545.6,398.3 1546.9,413.7 1548.2,430.3 1549.4,448.1 1550.7,466.9 1552.0,486.7 1553.2,507.5 1554.5,529.1 1555.8,551.4 1557.0,574.5 1558.3,598.1 1559.5,622.2 1560.8,646.6 1562.1,671.4 1563.3,696.4 1564.6,721.5 1565.9,746.5 1567.1,771.5 1568.4,796.3 1569.7,820.7 1570.9,844.8 1572.2,868.4 1573.4,891.4 1574.7,913.7 1576.0,935.3 1577.2,956.1 1578.5,975.9 1579.8,994.7 1581.0,1012.4 1582.3,1029.0 1583.6,1044.3 1584.8,1058.4 1586.1,1071.1 1587.4,1082.5 1588.6,1092.5 1589.9,1100.9 1591.1,1107.9 1592.4,1113.4 1593.7,1117.3 1594.9,1119.6 1596.2,1120.4"/>
<polyline stroke="#f9e6ac" stroke-width="7.00" points="79.5,720.3 205.9,720.3 205.9,674.0 1596.2,674.0"/>
<polyline stroke="#80acd0" stroke-width="3.30" points="79.5,720.3 205.9,720.3 205.9,720.3 207.2,751.5 208.4,780.8 209.7,808.5 210.9,834.9 212.2,860.1 213.5,884.2 214.7,907.2 216.0,929.2 217.3,950.1 218.5,969.8 219.8,988.5 221.1,1005.9 222.3,1022.2 223.6,1037.1 224.9,1050.7 226.1,1063.0 227.4,1073.8 228.6,1083.2 229.9,1091.0 231.2,1097.4 232.4,1102.3 233.7,1105.6 235.0,1107.3 236.2,1107.5 237.5,1106.1 238.8,1103.1 240.0,1098.7 241.3,1092.7 242.5,1085.1 243.8,1076.2 245.1,1065.8 246.3,1054.0 247.6,1040.8 248.9,1026.4 250.1,1010.7 251.4,993.9 252.7,976.0 253.9,957.0 255.2,937.1 256.4,916.3 257.7,894.7 259.0,872.3 260.2,849.4 261.5,825.9 262.8,802.0 264.0,777.7 265.3,753.2 266.6,728.5 267.8,703.8 269.1,679.1 270.4,654.5 271.6,630.2 272.9,606.1 274.1,582.6 275.4,559.5 276.7,537.0 277.9,515.2 279.2,494.2 280.5,474.1 281.7,454.9 283.0,436.7 284.3,419.6 285.5,403.7 286.8,388.9 288.0,375.5 289.3,363.4 290.6,352.6 291.8,343.3 293.1,335.4 294.4,329.0 295.6,324.1 296.9,320.8 298.2,319.0 299.4,318.8 300.7,320.1 301.9,322.9 303.2,327.3 304.5,333.3 305.7,340.7 307.0,349.6 308.3,359.9 309.5,371.7 310.8,384.7 312.1,399.1 313.3,414.8 314.6,431.6 315.9,449.5 317.1,468.5 318.4,488.5 319.6,509.3 320.9,531.0 322.2,553.4 323.4,576.5 324.7,600.1 326.0,624.2 327.2,648.6 328.5,673.4 329.8,698.3 331.0,723.2 332.3,748.2 333.5,773.1 334.8,797.7 336.1,822.1 337.3,846.0 338.6,869.5 339.9,892.4 341.1,914.5 342.4,936.0 343.7,956.6 344.9,976.2 346.2,994.9 347.5,1012.5 348.7,1028.9 350.0,1044.2 351.2,1058.1 352.5,1070.8 353.8,1082.0 355.0,1091.9 356.3,1100.3 357.6,1107.2 358.8,1112.6 360.1,1116.5 361.4,1118.8 362.6,1119.6 363.9,1118.8 365.1,1116.4 366.4,1112.5 367.7,1107.1 368.9,1100.1 370.2,1091.7 371.5,1081.8 372.7,1070.5 374.0,1057.8 375.3,1043.8 376.5,1028.6 377.8,1012.1 379.0,994.5 380.3,975.8 381.6,956.2 382.8,935.5 384.1,914.1 385.4,891.9 386.6,869.0 387.9,845.6 389.2,821.6 390.4,797.3 391.7,772.7 393.0,747.8 394.2,722.9 395.5,697.9 396.7,673.0 398.0,648.4 399.3,623.9 400.5,599.9 401.8,576.4 403.1,553.4 404.3,531.1 405.6,509.5 406.9,488.7 408.1,468.8 409.4,450.0 410.6,432.2 411.9,415.5 413.2,400.0 414.4,385.8 415.7,372.9 417.0,361.3 418.2,351.2 419.5,342.5 420.8,335.2 422.0,329.5 423.3,325.4 424.5,322.7 425.8,321.7 427.1,322.2 428.3,324.2 429.6,327.8 430.9,333.0 432.1,339.7 433.4,347.8 434.7,357.5 435.9,368.5 437.2,381.0 438.5,394.7 439.7,409.8 441.0,426.0 442.2,443.5 443.5,462.0 444.8,481.5 446.0,502.0 447.3,523.3 448.6,545.4 449.8,568.2 451.1,591.6 452.4,615.4 453.6,639.8 454.9,664.4 456.1,689.2 457.4,714.2 458.7,739.2 459.9,764.1 461.2,788.9 462.5,813.4 463.7,837.5 465.0,861.2 466.3,884.3 467.5,906.8 468.8,928.6 470.1,949.5 471.3,969.6 472.6,988.6 473.8,1006.7 475.1,1023.6 476.4,1039.3 477.6,1053.8 478.9,1066.9 480.2,1078.7 481.4,1089.1 482.7,1098.1 484.0,1105.6 485.2,1111.6 486.5,1116.0 487.7,1118.9 489.0,1120.2 490.3,1120.0 491.5,1118.2 492.8,1114.8 494.1,1109.9 495.3,1103.5 496.6,1095.6 497.9,1086.2 499.1,1075.4 500.4,1063.1 501.6,1049.6 502.9,1034.7 504.2,1018.6 505.4,1001.4 506.7,983.0 508.0,963.7 509.2,943.3 510.5,922.1 511.8,900.1 513.0,877.4 514.3,854.1 515.6,830.3 516.8,806.0 518.1,781.4 519.3,756.6 520.6,731.6 521.9,706.6 523.1,681.6 524.4,656.8 525.7,632.3 526.9,608.1 528.2,584.3 529.5,561.1 530.7,538.5 532.0,516.6 533.2,495.5 534.5,475.3 535.8,456.1 537.0,437.9 538.3,420.9 539.6,405.0 540.8,390.3 542.1,377.0 543.4,365.0 544.6,354.3 545.9,345.2 547.1,337.5 548.4,331.3 549.7,326.7 550.9,323.6 552.2,322.0 553.5,322.0 554.7,323.6 556.0,326.8 557.3,331.5 558.5,337.7 559.8,345.5 561.1,354.7 562.3,365.3 563.6,377.4 564.8,390.8 566.1,405.5 567.4,421.5 568.6,438.6 569.9,456.8 571.2,476.1 572.4,496.3 573.7,517.4 575.0,539.3 576.2,562.0 577.5,585.2 578.7,609.0 580.0,633.2 581.3,657.8 582.5,682.6 583.8,707.6 585.1,732.7 586.3,757.6 587.6,782.5 588.9,807.1 590.1,831.3 591.4,855.2 592.7,878.5 593.9,901.2 595.2,923.1 596.4,944.3 597.7,964.6 599.0,984.0 600.2,1002.3 601.5,1019.5 602.8,1035.5 604.0,1050.3 605.3,1063.8 606.6,1076.0 607.8,1086.8 609.1,1096.1 610.3,1104.0 611.6,1110.3 612.9,1115.1 614.1,1118.4 615.4,1120.1 616.7,1120.2 617.9,1118.8 619.2,1115.8 620.5,1111.3 621.7,1105.2 623.0,1097.6 624.2,1088.5 625.5,1078.0 626.8,1066.1 628.0,1052.8 629.3,1038.2 630.6,1022.4 631.8,1005.4 633.1,987.3 634.4,968.1 635.6,947.9 636.9,926.9 638.2,905.0 639.4,882.5 640.7,859.3 641.9,835.5 643.2,811.3 644.5,786.7 645.7,761.9 647.0,736.9 648.3,711.9 649.5,686.9 650.8,662.0 652.1,637.4 653.3,613.1 654.6,589.2 655.8,565.8 657.1,543.1 658.4,521.0 659.6,499.8 660.9,479.4 662.2,459.9 663.4,441.5 664.7,424.2 666.0,408.0 667.2,393.1 668.5,379.5 669.7,367.2 671.0,356.3 672.3,346.9 673.5,338.9 674.8,332.4 676.1,327.4 677.3,324.0 678.6,322.2 679.9,321.9 681.1,323.2 682.4,326.1 683.7,330.5 684.9,336.5 686.2,343.9 687.4,352.9 688.7,363.3 690.0,375.1 691.2,388.3 692.5,402.8 693.8,418.5 695.0,435.4 696.3,453.5 697.6,472.6 698.8,492.7 700.1,513.7 701.3,535.5 702.6,558.0 703.9,581.2 705.1,604.9 706.4,629.1 707.7,653.6 708.9,678.4 710.2,703.4 711.5,728.4 712.7,753.5 714.0,778.3 715.3,803.0 716.5,827.4 717.8,851.3 719.0,874.7 720.3,897.5 721.6,919.6 722.8,941.0 724.1,961.4 725.4,980.9 726.6,999.4 727.9,1016.8 729.2,1033.1 730.4,1048.1 731.7,1061.8 732.9,1074.2 734.2,1085.2 735.5,1094.8 736.7,1102.9 738.0,1109.4 739.3,1114.5 740.5,1118.0 741.8,1119.9 743.1,1120.3 744.3,1119.1 745.6,1116.4 746.8,1112.0 748.1,1106.2 749.4,1098.8 750.6,1089.9 751.9,1079.6 753.2,1067.9 754.4,1054.8 755.7,1040.4 757.0,1024.7 758.2,1007.9 759.5,989.9 760.8,970.9 762.0,950.8 763.3,929.9 764.5,908.1 765.8,885.6 767.1,862.5 768.3,838.8 769.6,814.6 770.9,790.1 772.1,765.3 773.4,740.3 774.7,715.3 775.9,690.2 777.2,665.3 778.4,640.6 779.7,616.3 781.0,592.3 782.2,568.9 783.5,546.0 784.8,523.8 786.0,502.5 787.3,481.9 788.6,462.4 789.8,443.8 791.1,426.3 792.3,410.0 793.6,394.9 794.9,381.1 796.1,368.7 797.4,357.6 798.7,347.9 799.9,339.8 801.2,333.1 802.5,328.0 803.7,324.4 805.0,322.3 806.3,321.9 807.5,323.0 808.8,325.7 810.0,329.9 811.3,335.7 812.6,343.0 813.8,351.8 815.1,362.0 816.4,373.7 817.6,386.7 818.9,401.0 820.2,416.7 821.4,433.5 822.7,451.4 823.9,470.4 825.2,490.4 826.5,511.3 827.7,533.0 829.0,555.5 830.3,578.6 831.5,602.3 832.8,626.4 834.1,650.9 835.3,675.7 836.6,700.7 837.9,725.8 839.1,750.8 840.4,775.7 841.6,800.4 842.9,824.8 844.2,848.8 845.4,872.3 846.7,895.2 848.0,917.4 849.2,938.8 850.5,959.4 851.8,979.0 853.0,997.6 854.3,1015.1 855.5,1031.5 856.8,1046.7 858.1,1060.5 859.3,1073.0 860.6,1084.2 861.9,1093.9 863.1,1102.1 864.4,1108.9 865.7,1114.1 866.9,1117.7 868.2,1119.8 869.4,1120.4 870.7,1119.3 872.0,1116.7 873.2,1112.5 874.5,1106.8 875.8,1099.6 877.0,1090.8 878.3,1080.6 879.6,1069.0 880.8,1056.1 882.1,1041.8 883.4,1026.2 884.6,1009.5 885.9,991.6 887.1,972.6 888.4,952.6 889.7,931.8 890.9,910.1 892.2,887.6 893.5,864.5 894.7,840.9 896.0,816.7 897.3,792.2 898.5,767.4 899.8,742.5 901.0,717.4 902.3,692.4 903.6,667.4 904.8,642.7 906.1,618.3 907.4,594.3 908.6,570.8 909.9,547.9 911.2,525.6 912.4,504.2 913.7,483.6 914.9,463.9 916.2,445.2 917.5,427.7 918.7,411.3 920.0,396.1 921.3,382.2 922.5,369.6 923.8,358.4 925.1,348.6 926.3,340.4 927.6,333.6 928.9,328.3 930.1,324.6 931.4,322.4 932.6,321.9 933.9,322.9 935.2,325.4 936.4,329.5 937.7,335.2 939.0,342.4 940.2,351.1 941.5,361.2 942.8,372.8 944.0,385.7 945.3,400.0 946.5,415.5 947.8,432.2 949.1,450.1 950.3,469.0 951.6,488.9 952.9,509.8 954.1,531.5 955.4,553.9 956.7,577.0 957.9,600.6 959.2,624.7 960.4,649.2 961.7,674.0 963.0,699.0 964.2,724.1 965.5,749.1 966.8,774.1 968.0,798.8 969.3,823.2 970.6,847.2 971.8,870.8 973.1,893.7 974.4,915.9 975.6,937.4 976.9,958.1 978.1,977.8 979.4,996.5 980.7,1014.1 981.9,1030.5 983.2,1045.7 984.5,1059.7 985.7,1072.3 987.0,1083.5 988.3,1093.3 989.5,1101.7 990.8,1108.5 992.0,1113.8 993.3,1117.6 994.6,1119.7 995.8,1120.4 997.1,1119.4 998.4,1116.9 999.6,1112.8 1000.9,1107.2 1002.2,1100.0 1003.4,1091.4 1004.7,1081.3 1006.0,1069.8 1007.2,1056.9 1008.5,1042.6 1009.7,1027.1 1011.0,1010.4 1012.3,992.6 1013.5,973.7 1014.8,953.8 1016.1,933.0 1017.3,911.3 1018.6,888.9 1019.9,865.8 1021.1,842.2 1022.4,818.1 1023.6,793.6 1024.9,768.8 1026.2,743.8 1027.4,718.8 1028.7,693.7 1030.0,668.8 1031.2,644.0 1032.5,619.6 1033.8,595.5 1035.0,572.0 1036.3,549.1 1037.5,526.8 1038.8,505.3 1040.1,484.6 1041.3,464.9 1042.6,446.2 1043.9,428.5 1045.1,412.1 1046.4,396.8 1047.7,382.8 1048.9,370.2 1050.2,358.9 1051.5,349.1 1052.7,340.7 1054.0,333.9 1055.2,328.5 1056.5,324.7 1057.8,322.5 1059.0,321.8 1060.3,322.8 1061.6,325.3 1062.8,329.3 1064.1,334.9 1065.4,342.0 1066.6,350.6 1067.9,360.7 1069.1,372.2 1070.4,385.1 1071.7,399.3 1072.9,414.7 1074.2,431.4 1075.5,449.2 1076.7,468.1 1078.0,488.0 1079.3,508.8 1080.5,530.5 1081.8,552.9 1083.0,575.9 1084.3,599.6 1085.6,623.7 1086.8,648.2 1088.1,672.9 1089.4,697.9 1090.6,723.0 1091.9,748.0 1093.2,773.0 1094.4,797.7 1095.7,822.2 1097.0,846.2 1098.2,869.8 1099.5,892.8 1100.7,915.0 1102.0,936.6 1103.3,957.2 1104.5,977.0 1105.8,995.7 1107.1,1013.4 1108.3,1029.9 1109.6,1045.2 1110.9,1059.2 1112.1,1071.8 1113.4,1083.1 1114.6,1093.0 1115.9,1101.4 1117.2,1108.3 1118.4,1113.6 1119.7,1117.4 1121.0,1119.7 1122.2,1120.4 1123.5,1119.5 1124.8,1117.0 1126.0,1113.0 1127.3,1107.4 1128.6,1100.3 1129.8,1091.7 1131.1,1081.7 1132.3,1070.2 1133.6,1057.4 1134.9,1043.2 1136.1,1027.7 1137.4,1011.1 1138.7,993.3 1139.9,974.4 1141.2,954.5 1142.5,933.7 1143.7,912.1 1145.0,889.7 1146.2,866.7 1147.5,843.0 1148.8,818.9 1150.0,794.4 1151.3,769.7 1152.6,744.7 1153.8,719.6 1155.1,694.6 1156.4,669.6 1157.6,644.8 1158.9,620.4 1160.1,596.3 1161.4,572.8 1162.7,549.8 1163.9,527.5 1165.2,506.0 1166.5,485.3 1167.7,465.5 1169.0,446.8 1170.3,429.1 1171.5,412.6 1172.8,397.3 1174.1,383.3 1175.3,370.6 1176.6,359.3 1177.8,349.4 1179.1,341.0 1180.4,334.1 1181.6,328.7 1182.9,324.8 1184.2,322.5 1185.4,321.8 1186.7,322.7 1188.0,325.2 1189.2,329.2 1190.5,334.7 1191.7,341.8 1193.0,350.4 1194.3,360.4 1195.5,371.9 1196.8,384.7 1198.1,398.8 1199.3,414.3 1200.6,430.9 1201.9,448.7 1203.1,467.6 1204.4,487.4 1205.6,508.2 1206.9,529.8 1208.2,552.2 1209.4,575.3 1210.7,598.9 1212.0,623.0 1213.2,647.5 1214.5,672.3 1215.8,697.2 1217.0,722.3 1218.3,747.4 1219.6,772.3 1220.8,797.1 1222.1,821.5 1223.3,845.6 1224.6,869.2 1225.9,892.2 1227.1,914.5 1228.4,936.0 1229.7,956.7 1230.9,976.5 1232.2,995.2 1233.5,1012.9 1234.7,1029.5 1236.0,1044.8 1237.2,1058.8 1238.5,1071.5 1239.8,1082.8 1241.0,1092.7 1242.3,1101.2 1243.6,1108.1 1244.8,1113.5 1246.1,1117.4 1247.4,1119.7 1248.6,1120.4 1249.9,1119.5 1251.2,1117.1 1252.4,1113.1 1253.7,1107.6 1254.9,1100.5 1256.2,1092.0 1257.5,1081.9 1258.7,1070.5 1260.0,1057.7 1261.3,1043.5 1262.5,1028.1 1263.8,1011.5 1265.1,993.7 1266.3,974.8 1267.6,955.0 1268.8,934.2 1270.1,912.6 1271.4,890.2 1272.6,867.2 1273.9,843.6 1275.2,819.5 1276.4,795.0 1277.7,770.2 1279.0,745.2 1280.2,720.2 1281.5,695.1 1282.7,670.1 1284.0,645.4 1285.3,620.9 1286.5,596.8 1287.8,573.3 1289.1,550.3 1290.3,528.0 1291.6,506.4 1292.9,485.7 1294.1,465.9 1295.4,447.1 1296.7,429.4 1297.9,412.9 1299.2,397.6 1300.4,383.5 1301.7,370.8 1303.0,359.5 1304.2,349.6 1305.5,341.1 1306.8,334.2 1308.0,328.8 1309.3,324.9 1310.6,322.6 1311.8,321.8 1313.1,322.7 1314.3,325.1 1315.6,329.1 1316.9,334.6 1318.1,341.6 1319.4,350.2 1320.7,360.2 1321.9,371.6 1323.2,384.4 1324.5,398.6 1325.7,414.0 1327.0,430.6 1328.2,448.4 1329.5,467.2 1330.8,487.1 1332.0,507.8 1333.3,529.4 1334.6,551.8 1335.8,574.9 1337.1,598.5 1338.4,622.6 1339.6,647.0 1340.9,671.8 1342.2,696.8 1343.4,721.9 1344.7,746.9 1345.9,771.9 1347.2,796.7 1348.5,821.1 1349.7,845.2 1351.0,868.8 1352.3,891.8 1353.5,914.1 1354.8,935.7 1356.1,956.4 1357.3,976.2 1358.6,994.9 1359.8,1012.7 1361.1,1029.2 1362.4,1044.5 1363.6,1058.6 1364.9,1071.3 1366.2,1082.7 1367.4,1092.6 1368.7,1101.0 1370.0,1108.0 1371.2,1113.4 1372.5,1117.3 1373.8,1119.6 1375.0,1120.4 1376.3,1119.5 1377.5,1117.1 1378.8,1113.2 1380.1,1107.7 1381.3,1100.6 1382.6,1092.1 1383.9,1082.1 1385.1,1070.7 1386.4,1057.9 1387.7,1043.7 1388.9,1028.3 1390.2,1011.7 1391.4,994.0 1392.7,975.1 1394.0,955.3 1395.2,934.5 1396.5,912.9 1397.8,890.5 1399.0,867.5 1400.3,843.9 1401.6,819.8 1402.8,795.3 1404.1,770.5 1405.3,745.6 1406.6,720.5 1407.9,695.4 1409.1,670.5 1410.4,645.7 1411.7,621.2 1412.9,597.2 1414.2,573.6 1415.5,550.6 1416.7,528.3 1418.0,506.7 1419.3,486.0 1420.5,466.2 1421.8,447.4 1423.0,429.7 1424.3,413.1 1425.6,397.8 1426.8,383.7 1428.1,371.0 1429.4,359.6 1430.6,349.7 1431.9,341.2 1433.2,334.3 1434.4,328.8 1435.7,324.9 1436.9,322.6 1438.2,321.8 1439.5,322.7 1440.7,325.1 1442.0,329.0 1443.3,334.5 1444.5,341.5 1445.8,350.1 1447.1,360.1 1448.3,371.5 1449.6,384.3 1450.8,398.4 1452.1,413.8 1453.4,430.4 1454.6,448.2 1455.9,467.0 1457.2,486.8 1458.4,507.6 1459.7,529.2 1461.0,551.6 1462.2,574.6 1463.5,598.2 1464.8,622.3 1466.0,646.8 1467.3,671.5 1468.5,696.5 1469.8,721.6 1471.1,746.7 1472.3,771.6 1473.6,796.4 1474.9,820.9 1476.1,844.9 1477.4,868.5 1478.7,891.5 1479.9,913.9 1481.2,935.4 1482.4,956.2 1483.7,976.0 1485.0,994.8 1486.2,1012.5 1487.5,1029.0 1488.8,1044.4 1490.0,1058.5 1491.3,1071.2 1492.6,1082.6 1493.8,1092.5 1495.1,1101.0 1496.4,1107.9 1497.6,1113.4 1498.9,1117.3 1500.1,1119.6 1501.4,1120.4 1502.7,1119.6 1503.9,1117.2 1505.2,1113.2 1506.5,1107.7 1507.7,1100.7 1509.0,1092.2 1510.3,1082.2 1511.5,1070.8 1512.8,1058.0 1514.0,1043.9 1515.3,1028.5 1516.6,1011.9 1517.8,994.1 1519.1,975.3 1520.4,955.5 1521.6,934.7 1522.9,913.1 1524.2,890.8 1525.4,867.7 1526.7,844.1 1527.9,820.0 1529.2,795.5 1530.5,770.8 1531.7,745.8 1533.0,720.7 1534.3,695.7 1535.5,670.7 1536.8,645.9 1538.1,621.5 1539.3,597.4 1540.6,573.8 1541.9,550.8 1543.1,528.4 1544.4,506.9 1545.6,486.1 1546.9,466.3 1548.2,447.5 1549.4,429.8 1550.7,413.2 1552.0,397.9 1553.2,383.8 1554.5,371.1 1555.8,359.7 1557.0,349.8 1558.3,341.3 1559.5,334.3 1560.8,328.9 1562.1,324.9 1563.3,322.6 1564.6,321.8 1565.9,322.7 1567.1,325.0 1568.4,329.0 1569.7,334.5 1570.9,341.5 1572.2,350.0 1573.4,360.0 1574.7,371.4 1576.0,384.2 1577.2,398.3 1578.5,413.7 1579.8,430.3 1581.0,448.0 1582.3,466.9 1583.6,486.7 1584.8,507.4 1586.1,529.0 1587.4,551.4 1588.6,574.4 1589.9,598.0 1591.1,622.1 1592.4,646.6 1593.7,671.4 1594.9,696.3 1596.2,721.4"/>
<polyline stroke="#d8845f" stroke-width="3.30" points="79.5,720.3 205.9,720.3 205.9,720.3 207.2,725.6 208.4,729.1 209.7,730.9 210.9,731.1 212.2,729.6 213.5,726.5 214.7,721.9 216.0,715.7 217.3,708.1 218.5,699.1 219.8,688.9 221.1,677.3 222.3,664.7 223.6,650.9 224.9,636.1 226.1,620.4 227.4,603.9 228.6,586.7 229.9,568.8 231.2,550.3 232.4,531.4 233.7,512.1 235.0,492.6 236.2,473.0 237.5,453.3 238.8,433.6 240.0,414.0 241.3,394.7 242.5,375.8 243.8,357.2 245.1,339.2 246.3,321.8 247.6,305.1 248.9,289.2 250.1,274.1 251.4,260.0 252.7,246.9 253.9,234.9 255.2,224.0 256.4,214.3 257.7,205.9 259.0,198.8 260.2,193.0 261.5,188.7 262.8,185.7 264.0,184.2 265.3,184.1 266.6,185.6 267.8,188.5 269.1,192.9 270.4,198.8 271.6,206.1 272.9,214.9 274.1,225.2 275.4,236.8 276.7,249.9 277.9,264.3 279.2,279.9 280.5,296.8 281.7,314.9 283.0,334.1 284.3,354.4 285.5,375.6 286.8,397.8 288.0,420.8 289.3,444.6 290.6,469.1 291.8,494.1 293.1,519.7 294.4,545.6 295.6,571.9 296.9,598.4 298.2,625.0 299.4,651.7 300.7,678.3 301.9,704.7 303.2,730.9 304.5,756.7 305.7,782.0 307.0,806.9 308.3,831.1 309.5,854.6 310.8,877.3 312.1,899.1 313.3,919.9 314.6,939.7 315.9,958.4 317.1,975.9 318.4,992.2 319.6,1007.1 320.9,1020.8 322.2,1033.0 323.4,1043.7 324.7,1053.0 326.0,1060.8 327.2,1067.1 328.5,1071.8 329.8,1074.9 331.0,1076.4 332.3,1076.4 333.5,1074.7 334.8,1071.5 336.1,1066.8 337.3,1060.5 338.6,1052.8 339.9,1043.5 341.1,1032.9 342.4,1020.9 343.7,1007.5 344.9,992.9 346.2,977.0 347.5,960.0 348.7,941.9 350.0,922.8 351.2,902.8 352.5,882.0 353.8,860.3 355.0,838.0 356.3,815.2 357.6,791.8 358.8,768.0 360.1,743.9 361.4,719.7 362.6,695.3 363.9,670.9 365.1,646.6 366.4,622.4 367.7,598.6 368.9,575.1 370.2,552.1 371.5,529.7 372.7,507.9 374.0,486.9 375.3,466.7 376.5,447.4 377.8,429.0 379.0,411.8 380.3,395.6 381.6,380.7 382.8,367.0 384.1,354.6 385.4,343.5 386.6,333.9 387.9,325.7 389.2,319.0 390.4,313.8 391.7,310.1 393.0,308.0 394.2,307.4 395.5,308.3 396.7,310.9 398.0,314.9 399.3,320.5 400.5,327.6 401.8,336.2 403.1,346.2 404.3,357.7 405.6,370.5 406.9,384.7 408.1,400.1 409.4,416.7 410.6,434.4 411.9,453.3 413.2,473.1 414.4,493.9 415.7,515.5 417.0,537.8 418.2,560.9 419.5,584.5 420.8,608.6 422.0,633.2 423.3,658.0 424.5,683.0 425.8,708.2 427.1,733.4 428.3,758.4 429.6,783.4 430.9,808.0 432.1,832.2 433.4,856.0 434.7,879.2 435.9,901.8 437.2,923.6 438.5,944.7 439.7,964.8 441.0,983.9 442.2,1002.0 443.5,1018.9 444.8,1034.6 446.0,1049.1 447.3,1062.3 448.6,1074.1 449.8,1084.5 451.1,1093.5 452.4,1101.0 453.6,1106.9 454.9,1111.4 456.1,1114.2 457.4,1115.6 458.7,1115.3 459.9,1113.5 461.2,1110.1 462.5,1105.2 463.7,1098.7 465.0,1090.8 466.3,1081.4 467.5,1070.5 468.8,1058.3 470.1,1044.7 471.3,1029.9 472.6,1013.8 473.8,996.5 475.1,978.2 476.4,958.8 477.6,938.5 478.9,917.3 480.2,895.3 481.4,872.7 482.7,849.4 484.0,825.6 485.2,801.4 486.5,776.8 487.7,752.1 489.0,727.2 490.3,702.2 491.5,677.3 492.8,652.6 494.1,628.1 495.3,604.0 496.6,580.3 497.9,557.2 499.1,534.7 500.4,513.0 501.6,492.0 502.9,471.9 504.2,452.8 505.4,434.7 506.7,417.8 508.0,402.0 509.2,387.5 510.5,374.3 511.8,362.4 513.0,351.9 514.3,342.9 515.6,335.4 516.8,329.3 518.1,324.8 519.3,321.8 520.6,320.4 521.9,320.6 523.1,322.3 524.4,325.6 525.7,330.4 526.9,336.8 528.2,344.6 529.5,354.0 530.7,364.7 532.0,376.9 533.2,390.4 534.5,405.2 535.8,421.2 537.0,438.4 538.3,456.8 539.6,476.1 540.8,496.4 542.1,517.6 543.4,539.6 544.6,562.3 545.9,585.6 547.1,609.4 548.4,633.7 549.7,658.3 550.9,683.1 552.2,708.1 553.5,733.2 554.7,758.2 556.0,783.0 557.3,807.6 558.5,831.9 559.8,855.7 561.1,879.0 562.3,901.6 563.6,923.6 564.8,944.7 566.1,965.0 567.4,984.3 568.6,1002.6 569.9,1019.7 571.2,1035.7 572.4,1050.4 573.7,1063.9 575.0,1076.0 576.2,1086.7 577.5,1096.0 578.7,1103.8 580.0,1110.0 581.3,1114.8 582.5,1118.0 583.8,1119.6 585.1,1119.7 586.3,1118.2 587.6,1115.1 588.9,1110.5 590.1,1104.4 591.4,1096.7 592.7,1087.6 593.9,1077.0 595.2,1065.1 596.4,1051.7 597.7,1037.1 599.0,1021.2 600.2,1004.2 601.5,986.0 602.8,966.8 604.0,946.6 605.3,925.6 606.6,903.7 607.8,881.1 609.1,857.9 610.3,834.1 611.6,809.9 612.9,785.3 614.1,760.5 615.4,735.5 616.7,710.5 617.9,685.5 619.2,660.7 620.5,636.1 621.7,611.8 623.0,587.9 624.2,564.6 625.5,541.9 626.8,519.9 628.0,498.6 629.3,478.3 630.6,458.9 631.8,440.5 633.1,423.3 634.4,407.2 635.6,392.3 636.9,378.8 638.2,366.5 639.4,355.7 640.7,346.3 641.9,338.4 643.2,332.0 644.5,327.1 645.7,323.8 647.0,322.0 648.3,321.8 649.5,323.1 650.8,326.1 652.1,330.6 653.3,336.6 654.6,344.1 655.8,353.1 657.1,363.6 658.4,375.5 659.6,388.7 660.9,403.2 662.2,419.0 663.4,436.0 664.7,454.1 666.0,473.2 667.2,493.3 668.5,514.3 669.7,536.2 671.0,558.7 672.3,581.9 673.5,605.6 674.8,629.8 676.1,654.4 677.3,679.2 678.6,704.2 679.9,729.2 681.1,754.2 682.4,779.1 683.7,803.8 684.9,828.1 686.2,852.0 687.4,875.4 688.7,898.2 690.0,920.3 691.2,941.6 692.5,962.0 693.8,981.5 695.0,1000.0 696.3,1017.3 697.6,1033.5 698.8,1048.5 700.1,1062.2 701.3,1074.5 702.6,1085.5 703.9,1095.0 705.1,1103.0 706.4,1109.6 707.7,1114.6 708.9,1118.0 710.2,1119.9 711.5,1120.3 712.7,1119.0 714.0,1116.2 715.3,1111.8 716.5,1105.9 717.8,1098.5 719.0,1089.6 720.3,1079.3 721.6,1067.5 722.8,1054.4 724.1,1039.9 725.4,1024.2 726.6,1007.3 727.9,989.3 729.2,970.2 730.4,950.2 731.7,929.2 732.9,907.4 734.2,884.9 735.5,861.8 736.7,838.1 738.0,813.9 739.3,789.4 740.5,764.6 741.8,739.6 743.1,714.5 744.3,689.5 745.6,664.6 746.8,639.9 748.1,615.6 749.4,591.6 750.6,568.2 751.9,545.4 753.2,523.2 754.4,501.9 755.7,481.4 757.0,461.8 758.2,443.3 759.5,425.8 760.8,409.6 762.0,394.5 763.3,380.8 764.5,368.3 765.8,357.3 767.1,347.7 768.3,339.6 769.6,332.9 770.9,327.8 772.1,324.3 773.4,322.3 774.7,321.9 775.9,323.0 777.2,325.7 778.4,330.0 779.7,335.8 781.0,343.2 782.2,352.0 783.5,362.3 784.8,374.0 786.0,387.0 787.3,401.4 788.6,417.0 789.8,433.9 791.1,451.8 792.3,470.8 793.6,490.8 794.9,511.8 796.1,533.5 797.4,556.0 798.7,579.1 799.9,602.8 801.2,627.0 802.5,651.5 803.7,676.3 805.0,701.3 806.3,726.3 807.5,751.3 808.8,776.3 810.0,801.0 811.3,825.3 812.6,849.3 813.8,872.8 815.1,895.7 816.4,917.8 817.6,939.2 818.9,959.8 820.2,979.4 821.4,998.0 822.7,1015.5 823.9,1031.8 825.2,1047.0 826.5,1060.8 827.7,1073.3 829.0,1084.4 830.3,1094.1 831.5,1102.3 832.8,1109.0 834.1,1114.2 835.3,1117.8 836.6,1119.8 837.9,1120.3 839.1,1119.3 840.4,1116.6 841.6,1112.4 842.9,1106.7 844.2,1099.4 845.4,1090.6 846.7,1080.4 848.0,1068.8 849.2,1055.8 850.5,1041.5 851.8,1025.9 853.0,1009.1 854.3,991.2 855.5,972.2 856.8,952.3 858.1,931.4 859.3,909.7 860.6,887.2 861.9,864.1 863.1,840.4 864.4,816.3 865.7,791.8 866.9,767.0 868.2,742.0 869.4,717.0 870.7,691.9 872.0,667.0 873.2,642.3 874.5,617.9 875.8,593.9 877.0,570.4 878.3,547.5 879.6,525.3 880.8,503.8 882.1,483.2 883.4,463.6 884.6,444.9 885.9,427.4 887.1,411.0 888.4,395.8 889.7,381.9 890.9,369.4 892.2,358.2 893.5,348.5 894.7,340.2 896.0,333.5 897.3,328.2 898.5,324.5 899.8,322.4 901.0,321.9 902.3,322.9 903.6,325.5 904.8,329.6 906.1,335.3 907.4,342.5 908.6,351.2 909.9,361.4 911.2,373.0 912.4,385.9 913.7,400.2 914.9,415.7 916.2,432.5 917.5,450.3 918.7,469.3 920.0,489.2 921.3,510.1 922.5,531.8 923.8,554.2 925.1,577.3 926.3,601.0 927.6,625.1 928.9,649.6 930.1,674.4 931.4,699.4 932.6,724.4 933.9,749.5 935.2,774.4 936.4,799.1 937.7,823.5 939.0,847.6 940.2,871.1 941.5,894.0 942.8,916.2 944.0,937.7 945.3,958.3 946.5,978.0 947.8,996.7 949.1,1014.3 950.3,1030.7 951.6,1045.9 952.9,1059.9 954.1,1072.5 955.4,1083.7 956.7,1093.4 957.9,1101.8 959.2,1108.6 960.4,1113.9 961.7,1117.6 963.0,1119.8 964.2,1120.4 965.5,1119.4 966.8,1116.9 968.0,1112.7 969.3,1107.1 970.6,1099.9 971.8,1091.3 973.1,1081.1 974.4,1069.6 975.6,1056.7 976.9,1042.5 978.1,1027.0 979.4,1010.2 980.7,992.4 981.9,973.5 983.2,953.6 984.5,932.7 985.7,911.1 987.0,888.6 988.3,865.6 989.5,841.9 990.8,817.8 992.0,793.3 993.3,768.5 994.6,743.5 995.8,718.5 997.1,693.4 998.4,668.5 999.6,643.7 1000.9,619.3 1002.2,595.3 1003.4,571.7 1004.7,548.8 1006.0,526.5 1007.2,505.0 1008.5,484.4 1009.7,464.7 1011.0,446.0 1012.3,428.4 1013.5,411.9 1014.8,396.7 1016.1,382.7 1017.3,370.1 1018.6,358.8 1019.9,349.0 1021.1,340.6 1022.4,333.8 1023.6,328.5 1024.9,324.7 1026.2,322.5 1027.4,321.8 1028.7,322.8 1030.0,325.3 1031.2,329.4 1032.5,335.0 1033.8,342.1 1035.0,350.7 1036.3,360.8 1037.5,372.3 1038.8,385.2 1040.1,399.4 1041.3,414.9 1042.6,431.6 1043.9,449.4 1045.1,468.3 1046.4,488.2 1047.7,509.0 1048.9,530.7 1050.2,553.1 1051.5,576.1 1052.7,599.8 1054.0,623.9 1055.2,648.4 1056.5,673.2 1057.8,698.1 1059.0,723.2 1060.3,748.3 1061.6,773.2 1062.8,798.0 1064.1,822.4 1065.4,846.4 1066.6,870.0 1067.9,892.9 1069.1,915.2 1070.4,936.7 1071.7,957.4 1072.9,977.1 1074.2,995.9 1075.5,1013.5 1076.7,1030.0 1078.0,1045.3 1079.3,1059.3 1080.5,1071.9 1081.8,1083.2 1083.0,1093.0 1084.3,1101.4 1085.6,1108.3 1086.8,1113.7 1088.1,1117.5 1089.4,1119.7 1090.6,1120.4 1091.9,1119.5 1093.2,1117.0 1094.4,1113.0 1095.7,1107.4 1097.0,1100.3 1098.2,1091.7 1099.5,1081.6 1100.7,1070.1 1102.0,1057.3 1103.3,1043.1 1104.5,1027.6 1105.8,1010.9 1107.1,993.1 1108.3,974.3 1109.6,954.4 1110.9,933.6 1112.1,911.9 1113.4,889.5 1114.6,866.5 1115.9,842.9 1117.2,818.8 1118.4,794.3 1119.7,769.5 1121.0,744.5 1122.2,719.4 1123.5,694.4 1124.8,669.4 1126.0,644.7 1127.3,620.2 1128.6,596.2 1129.8,572.6 1131.1,549.6 1132.3,527.3 1133.6,505.8 1134.9,485.1 1136.1,465.4 1137.4,446.6 1138.7,429.0 1139.9,412.5 1141.2,397.2 1142.5,383.2 1143.7,370.5 1145.0,359.2 1146.2,349.3 1147.5,340.9 1148.8,334.0 1150.0,328.6 1151.3,324.8 1152.6,322.5 1153.8,321.8 1155.1,322.7 1156.4,325.2 1157.6,329.2 1158.9,334.8 1160.1,341.8 1161.4,350.4 1162.7,360.5 1163.9,371.9 1165.2,384.8 1166.5,398.9 1167.7,414.4 1169.0,431.0 1170.3,448.8 1171.5,467.7 1172.8,487.6 1174.1,508.3 1175.3,530.0 1176.6,552.4 1177.8,575.4 1179.1,599.0 1180.4,623.1 1181.6,647.6 1182.9,672.4 1184.2,697.4 1185.4,722.4 1186.7,747.5 1188.0,772.5 1189.2,797.2 1190.5,821.7 1191.7,845.7 1193.0,869.3 1194.3,892.3 1195.5,914.6 1196.8,936.1 1198.1,956.8 1199.3,976.6 1200.6,995.3 1201.9,1013.0 1203.1,1029.5 1204.4,1044.9 1205.6,1058.9 1206.9,1071.6 1208.2,1082.9 1209.4,1092.8 1210.7,1101.2 1212.0,1108.1 1213.2,1113.5 1214.5,1117.4 1215.8,1119.7 1217.0,1120.4 1218.3,1119.5 1219.6,1117.1 1220.8,1113.1 1222.1,1107.5 1223.3,1100.5 1224.6,1091.9 1225.9,1081.9 1227.1,1070.4 1228.4,1057.6 1229.7,1043.5 1230.9,1028.0 1232.2,1011.4 1233.5,993.6 1234.7,974.8 1236.0,954.9 1237.2,934.1 1238.5,912.5 1239.8,890.1 1241.0,867.1 1242.3,843.5 1243.6,819.4 1244.8,794.9 1246.1,770.1 1247.4,745.1 1248.6,720.0 1249.9,695.0 1251.2,670.0 1252.4,645.3 1253.7,620.8 1254.9,596.7 1256.2,573.2 1257.5,550.2 1258.7,527.9 1260.0,506.3 1261.3,485.6 1262.5,465.8 1263.8,447.1 1265.1,429.4 1266.3,412.8 1267.6,397.5 1268.8,383.5 1270.1,370.8 1271.4,359.4 1272.6,349.5 1273.9,341.1 1275.2,334.1 1276.4,328.7 1277.7,324.9 1279.0,322.6 1280.2,321.8 1281.5,322.7 1282.7,325.1 1284.0,329.1 1285.3,334.6 1286.5,341.7 1287.8,350.2 1289.1,360.2 1290.3,371.7 1291.6,384.5 1292.9,398.6 1294.1,414.0 1295.4,430.7 1296.7,448.4 1297.9,467.3 1299.2,487.1 1300.4,507.9 1301.7,529.5 1303.0,551.9 1304.2,574.9 1305.5,598.6 1306.8,622.7 1308.0,647.1 1309.3,671.9 1310.6,696.9 1311.8,722.0 1313.1,747.0 1314.3,772.0 1315.6,796.7 1316.9,821.2 1318.1,845.3 1319.4,868.9 1320.7,891.9 1321.9,914.2 1323.2,935.7 1324.5,956.4 1325.7,976.2 1327.0,995.0 1328.2,1012.7 1329.5,1029.3 1330.8,1044.6 1332.0,1058.6 1333.3,1071.4 1334.6,1082.7 1335.8,1092.6 1337.1,1101.1 1338.4,1108.0 1339.6,1113.4 1340.9,1117.3 1342.2,1119.6 1343.4,1120.4 1344.7,1119.5 1345.9,1117.1 1347.2,1113.2 1348.5,1107.6 1349.7,1100.6 1351.0,1092.1 1352.3,1082.1 1353.5,1070.6 1354.8,1057.8 1356.1,1043.7 1357.3,1028.3 1358.6,1011.7 1359.8,993.9 1361.1,975.1 1362.4,955.2 1363.6,934.5 1364.9,912.8 1366.2,890.5 1367.4,867.4 1368.7,843.8 1370.0,819.7 1371.2,795.3 1372.5,770.5 1373.8,745.5 1375.0,720.4 1376.3,695.4 1377.5,670.4 1378.8,645.6 1380.1,621.2 1381.3,597.1 1382.6,573.5 1383.9,550.5 1385.1,528.2 1386.4,506.6 1387.7,485.9 1388.9,466.1 1390.2,447.3 1391.4,429.6 1392.7,413.1 1394.0,397.7 1395.2,383.7 1396.5,370.9 1397.8,359.6 1399.0,349.7 1400.3,341.2 1401.6,334.2 1402.8,328.8 1404.1,324.9 1405.3,322.6 1406.6,321.8 1407.9,322.7 1409.1,325.1 1410.4,329.0 1411.7,334.5 1412.9,341.6 1414.2,350.1 1415.5,360.1 1416.7,371.5 1418.0,384.3 1419.3,398.4 1420.5,413.8 1421.8,430.4 1423.0,448.2 1424.3,467.0 1425.6,486.9 1426.8,507.6 1428.1,529.3 1429.4,551.6 1430.6,574.6 1431.9,598.3 1433.2,622.3 1434.4,646.8 1435.7,671.6 1436.9,696.6 1438.2,721.6 1439.5,746.7 1440.7,771.7 1442.0,796.4 1443.3,820.9 1444.5,845.0 1445.8,868.6 1447.1,891.6 1448.3,913.9 1449.6,935.5 1450.8,956.2 1452.1,976.0 1453.4,994.8 1454.6,1012.5 1455.9,1029.1 1457.2,1044.4 1458.4,1058.5 1459.7,1071.2 1461.0,1082.6 1462.2,1092.5 1463.5,1101.0 1464.8,1108.0 1466.0,1113.4 1467.3,1117.3 1468.5,1119.6 1469.8,1120.4 1471.1,1119.6 1472.3,1117.2 1473.6,1113.2 1474.9,1107.7 1476.1,1100.7 1477.4,1092.2 1478.7,1082.2 1479.9,1070.8 1481.2,1058.0 1482.4,1043.9 1483.7,1028.5 1485.0,1011.9 1486.2,994.1 1487.5,975.3 1488.8,955.4 1490.0,934.7 1491.3,913.1 1492.6,890.7 1493.8,867.7 1495.1,844.1 1496.4,820.0 1497.6,795.5 1498.9,770.7 1500.1,745.8 1501.4,720.7 1502.7,695.6 1503.9,670.6 1505.2,645.9 1506.5,621.4 1507.7,597.3 1509.0,573.7 1510.3,550.7 1511.5,528.4 1512.8,506.8 1514.0,486.1 1515.3,466.3 1516.6,447.5 1517.8,429.8 1519.1,413.2 1520.4,397.9 1521.6,383.8 1522.9,371.0 1524.2,359.7 1525.4,349.7 1526.7,341.3 1527.9,334.3 1529.2,328.8 1530.5,324.9 1531.7,322.6 1533.0,321.8 1534.3,322.7 1535.5,325.0 1536.8,329.0 1538.1,334.5 1539.3,341.5 1540.6,350.0 1541.9,360.0 1543.1,371.4 1544.4,384.2 1545.6,398.3 1546.9,413.7 1548.2,430.3 1549.4,448.1 1550.7,466.9 1552.0,486.7 1553.2,507.5 1554.5,529.1 1555.8,551.4 1557.0,574.5 1558.3,598.1 1559.5,622.2 1560.8,646.6 1562.1,671.4 1563.3,696.4 1564.6,721.5 1565.9,746.5 1567.1,771.5 1568.4,796.3 1569.7,820.7 1570.9,844.8 1572.2,868.4 1573.4,891.4 1574.7,913.7 1576.0,935.3 1577.2,956.1 1578.5,975.9 1579.8,994.7 1581.0,1012.4 1582.3,1029.0 1583.6,1044.3 1584.8,1058.4 1586.1,1071.1 1587.4,1082.5 1588.6,1092.5 1589.9,1100.9 1591.1,1107.9 1592.4,1113.4 1593.7,1117.3 1594.9,1119.6 1596.2,1120.4"/>
<polyline stroke="#eec666" stroke-width="3.80" points="79.5,720.3 205.9,720.3 205.9,674.0 1596.2,674.0"/>
<line x1="79.5" y1="720.3" x2="204.4" y2="720.3" stroke="#dcb66e" stroke-width="2.6"/>
</g>
<rect x="76" y="67.5" width="3.5" height="1158" fill="#b4b4b4"/>
<rect x="79.5" y="67.5" width="3.5" height="1155" fill="#8c8c8c"/>
<rect x="1592.7" y="67.5" width="3.5" height="1158" fill="#b4b4b4"/>
<rect x="1596.2" y="67.5" width="3.6" height="1158" fill="#8c8c8c"/>
<rect x="76" y="67.5" width="1523.8" height="3.5" fill="#666"/>
<rect x="79.5" y="1218.6" width="1517" height="3.5" fill="#888"/>
<rect x="79.5" y="1222.1" width="1517" height="3.5" fill="#bbb"/>
<rect x="1348.2" y="111.4" width="207.6" height="156.8" fill="#fff"/>
<rect x="1348.2" y="111.4" width="3" height="156.8" fill="#b0b0b0"/>
<rect x="1348.2" y="111.4" width="207.6" height="3" fill="#b4b4b4"/>
<rect x="1351.2" y="114.4" width="3.2" height="153.8" fill="#7c7c7c"/>
<rect x="1351.2" y="114.4" width="204.6" height="3.6" fill="#767676"/>
<rect x="1552" y="114.4" width="3.8" height="153.8" fill="#747474"/>
<rect x="1351.2" y="264.4" width="204.6" height="3.8" fill="#6e6e6e"/>
<g>
<line x1="1365" y1="144" x2="1505" y2="144" stroke="#d4e6f2" stroke-width="7.5"/>
<line x1="1365" y1="191.7" x2="1505" y2="191.7" stroke="#fbd0b8" stroke-width="7.5"/>
<line x1="1365" y1="237.5" x2="1505" y2="237.5" stroke="#fcf0c0" stroke-width="9"/>
<line x1="1366" y1="144" x2="1504" y2="144" stroke="#a6c4da" stroke-width="4"/>
<line x1="1366" y1="191.7" x2="1504" y2="191.7" stroke="#ea9272" stroke-width="4.5"/>
<line x1="1366" y1="237.9" x2="1504" y2="237.9" stroke="#e2cc8e" stroke-width="4"/>
</g>
<g style="font-size:36.5px">
<text x="1513" y="157">N</text>
<text x="1513" y="205.5">E</text>
<text x="1513" y="253.5">D</text>
</g>
<g style="font-size:36.5px"><text x="77.8" y="1266" text-anchor="middle">0</text><text x="333.2" y="1266" text-anchor="middle">200</text><text x="585.9" y="1266" text-anchor="middle">400</text><text x="839.2" y="1266" text-anchor="middle">600</text><text x="1091.6" y="1266" text-anchor="middle">800</text><text x="1343.0" y="1266" text-anchor="middle">1000</text><text x="1597.1" y="1266" text-anchor="middle">1200</text><text x="73" y="245.3" text-anchor="end">15</text><text x="73" y="408.8" text-anchor="end">10</text><text x="73" y="572.3" text-anchor="end">5</text><text x="73" y="735.8" text-anchor="end">0</text><text x="73" y="899.3" text-anchor="end">-5</text><text x="73" y="1062.8" text-anchor="end">-10</text><text x="73" y="1226.3" text-anchor="end">-15</text></g><rect x="1304.42" y="1262.20" width="7.00" height="5.0" fill="#fff"/><rect x="1315.02" y="1262.20" width="6.60" height="5.0" fill="#fff"/><rect x="1558.50" y="1262.20" width="7.00" height="5.0" fill="#fff"/><rect x="1569.10" y="1262.20" width="6.60" height="5.0" fill="#fff"/><rect x="34.40" y="241.46" width="7.00" height="5.0" fill="#fff"/><rect x="45.00" y="241.46" width="6.60" height="5.0" fill="#fff"/><rect x="34.40" y="404.96" width="7.00" height="5.0" fill="#fff"/><rect x="45.00" y="404.96" width="6.60" height="5.0" fill="#fff"/><rect x="34.40" y="1058.96" width="7.00" height="5.0" fill="#fff"/><rect x="45.00" y="1058.96" width="6.60" height="5.0" fill="#fff"/><rect x="34.40" y="1222.46" width="7.00" height="5.0" fill="#fff"/><rect x="45.00" y="1222.46" width="6.60" height="5.0" fill="#fff"/>
<text x="838" y="52.5" text-anchor="middle" style="font-size:46px">Velocity Estimation Error (m/s)</text>
<text x="838" y="1321.5" text-anchor="middle" style="font-size:46px">Time (seconds)</text>
<text x="19" y="1333" style="font-size:36.5px">Offset=0</text>
</svg></body></html>
